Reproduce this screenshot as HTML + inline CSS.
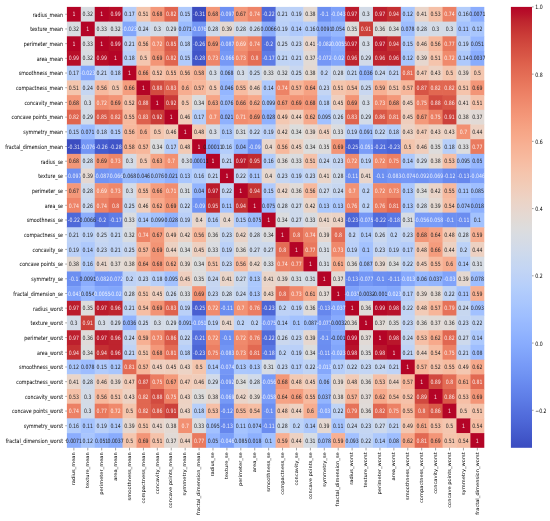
<!DOCTYPE html>
<html lang="en"><head><meta charset="utf-8"><title>Correlation heatmap</title>
<style>
html,body{margin:0;padding:0;background:#fff}
body{width:550px;height:521px;overflow:hidden}
svg{display:block}
text{font-family:"DejaVu Sans","Liberation Sans",sans-serif;font-size:4.675px;text-rendering:geometricPrecision}
.a{text-anchor:middle}
.w{fill-opacity:.85}
.w{fill:#fff}
.k{fill:#262626}
.y{text-anchor:end;fill:#000}
.x{text-anchor:end;fill:#000}
.c{fill:#000}
.t{stroke:#000;stroke-width:0.374}
</style></head>
<body>
<svg width="550" height="521" viewBox="0 0 550 521">
<defs><linearGradient id="cb" x1="0" y1="1" x2="0" y2="0"><stop offset="0%" stop-color="#3b4cc0"/><stop offset="1.56%" stop-color="#3f53c6"/><stop offset="3.12%" stop-color="#445acc"/><stop offset="4.69%" stop-color="#4961d2"/><stop offset="6.25%" stop-color="#4e68d8"/><stop offset="7.81%" stop-color="#536edd"/><stop offset="9.38%" stop-color="#5875e1"/><stop offset="10.94%" stop-color="#5d7ce6"/><stop offset="12.5%" stop-color="#6282ea"/><stop offset="14.06%" stop-color="#6788ee"/><stop offset="15.62%" stop-color="#6c8ff1"/><stop offset="17.19%" stop-color="#7295f4"/><stop offset="18.75%" stop-color="#779af7"/><stop offset="20.31%" stop-color="#7da0f9"/><stop offset="21.88%" stop-color="#82a6fb"/><stop offset="23.44%" stop-color="#88abfd"/><stop offset="25%" stop-color="#8db0fe"/><stop offset="26.56%" stop-color="#93b5fe"/><stop offset="28.12%" stop-color="#98b9ff"/><stop offset="29.69%" stop-color="#9ebeff"/><stop offset="31.25%" stop-color="#a3c2fe"/><stop offset="32.81%" stop-color="#a9c6fd"/><stop offset="34.38%" stop-color="#aec9fc"/><stop offset="35.94%" stop-color="#b3cdfb"/><stop offset="37.5%" stop-color="#b9d0f9"/><stop offset="39.06%" stop-color="#bed2f6"/><stop offset="40.62%" stop-color="#c3d5f4"/><stop offset="42.19%" stop-color="#c7d7f0"/><stop offset="43.75%" stop-color="#ccd9ed"/><stop offset="45.31%" stop-color="#d1dae9"/><stop offset="46.88%" stop-color="#d5dbe5"/><stop offset="48.44%" stop-color="#d9dce1"/><stop offset="50%" stop-color="#dddcdc"/><stop offset="51.56%" stop-color="#e1dad6"/><stop offset="53.12%" stop-color="#e5d8d1"/><stop offset="54.69%" stop-color="#e9d5cb"/><stop offset="56.25%" stop-color="#ecd3c5"/><stop offset="57.81%" stop-color="#efcfbf"/><stop offset="59.38%" stop-color="#f1ccb8"/><stop offset="60.94%" stop-color="#f3c8b2"/><stop offset="62.5%" stop-color="#f5c4ac"/><stop offset="64.06%" stop-color="#f6bfa6"/><stop offset="65.62%" stop-color="#f7ba9f"/><stop offset="67.19%" stop-color="#f7b599"/><stop offset="68.75%" stop-color="#f7b093"/><stop offset="70.31%" stop-color="#f7aa8c"/><stop offset="71.88%" stop-color="#f6a586"/><stop offset="73.44%" stop-color="#f59f80"/><stop offset="75%" stop-color="#f4987a"/><stop offset="76.56%" stop-color="#f29274"/><stop offset="78.12%" stop-color="#f08b6e"/><stop offset="79.69%" stop-color="#ee8468"/><stop offset="81.25%" stop-color="#eb7d62"/><stop offset="82.81%" stop-color="#e8765c"/><stop offset="84.38%" stop-color="#e46e56"/><stop offset="85.94%" stop-color="#e16751"/><stop offset="87.5%" stop-color="#dd5f4b"/><stop offset="89.06%" stop-color="#d85646"/><stop offset="90.62%" stop-color="#d44e41"/><stop offset="92.19%" stop-color="#cf453c"/><stop offset="93.75%" stop-color="#ca3b37"/><stop offset="95.31%" stop-color="#c43032"/><stop offset="96.88%" stop-color="#be242e"/><stop offset="98.44%" stop-color="#b8122a"/><stop offset="100%" stop-color="#b40426"/></linearGradient><filter id="b" x="-5%" y="-5%" width="110%" height="110%"><feGaussianBlur stdDeviation="0.42"/></filter></defs>
<rect width="550" height="521" fill="#fff"/>
<g>
<rect x="66.9" y="6.9" width="14.31" height="15.1" fill="#b40426"/><rect x="80.81" y="6.9" width="14.31" height="15.1" fill="#d9dce1"/><rect x="94.73" y="6.9" width="14.31" height="15.1" fill="#b40426"/><rect x="108.64" y="6.9" width="14.31" height="15.1" fill="#b70d28"/><rect x="122.55" y="6.9" width="14.31" height="15.1" fill="#b6cefa"/><rect x="136.47" y="6.9" width="14.31" height="15.1" fill="#f4c5ad"/><rect x="150.38" y="6.9" width="14.31" height="15.1" fill="#f4987a"/><rect x="164.29" y="6.9" width="14.31" height="15.1" fill="#e0654f"/><rect x="178.21" y="6.9" width="14.31" height="15.1" fill="#afcafc"/><rect x="192.12" y="6.9" width="14.31" height="15.1" fill="#3b4cc0"/><rect x="206.03" y="6.9" width="14.31" height="15.1" fill="#f39778"/><rect x="219.95" y="6.9" width="14.31" height="15.1" fill="#6e90f2"/><rect x="233.86" y="6.9" width="14.31" height="15.1" fill="#f4987a"/><rect x="247.77" y="6.9" width="14.31" height="15.1" fill="#ee8468"/><rect x="261.69" y="6.9" width="14.31" height="15.1" fill="#4f69d9"/><rect x="275.6" y="6.9" width="14.31" height="15.1" fill="#bfd3f6"/><rect x="289.51" y="6.9" width="14.31" height="15.1" fill="#bbd1f8"/><rect x="303.43" y="6.9" width="14.31" height="15.1" fill="#e3d9d3"/><rect x="317.34" y="6.9" width="14.31" height="15.1" fill="#6c8ff1"/><rect x="331.25" y="6.9" width="14.31" height="15.1" fill="#7da0f9"/><rect x="345.17" y="6.9" width="14.31" height="15.1" fill="#bb1b2c"/><rect x="359.08" y="6.9" width="14.31" height="15.1" fill="#d3dbe7"/><rect x="372.99" y="6.9" width="14.31" height="15.1" fill="#bd1f2d"/><rect x="386.91" y="6.9" width="14.31" height="15.1" fill="#c43032"/><rect x="400.82" y="6.9" width="14.31" height="15.1" fill="#a9c6fd"/><rect x="414.73" y="6.9" width="14.31" height="15.1" fill="#ead5c9"/><rect x="428.65" y="6.9" width="14.31" height="15.1" fill="#f5c0a7"/><rect x="442.56" y="6.9" width="14.31" height="15.1" fill="#ec8165"/><rect x="456.47" y="6.9" width="14.31" height="15.1" fill="#b3cdfb"/><rect x="470.39" y="6.9" width="13.91" height="15.1" fill="#8badfd"/>
<rect x="66.9" y="21.6" width="14.31" height="15.1" fill="#d9dce1"/><rect x="80.81" y="21.6" width="14.31" height="15.1" fill="#b40426"/><rect x="94.73" y="21.6" width="14.31" height="15.1" fill="#dadce0"/><rect x="108.64" y="21.6" width="14.31" height="15.1" fill="#d8dce2"/><rect x="122.55" y="21.6" width="14.31" height="15.1" fill="#82a6fb"/><rect x="136.47" y="21.6" width="14.31" height="15.1" fill="#c6d6f1"/><rect x="150.38" y="21.6" width="14.31" height="15.1" fill="#d4dbe6"/><rect x="164.29" y="21.6" width="14.31" height="15.1" fill="#d3dbe7"/><rect x="178.21" y="21.6" width="14.31" height="15.1" fill="#9bbcff"/><rect x="192.12" y="21.6" width="14.31" height="15.1" fill="#7396f5"/><rect x="206.03" y="21.6" width="14.31" height="15.1" fill="#cedaeb"/><rect x="219.95" y="21.6" width="14.31" height="15.1" fill="#e5d8d1"/><rect x="233.86" y="21.6" width="14.31" height="15.1" fill="#cfdaea"/><rect x="247.77" y="21.6" width="14.31" height="15.1" fill="#cbd8ee"/><rect x="261.69" y="21.6" width="14.31" height="15.1" fill="#8badfd"/><rect x="275.6" y="21.6" width="14.31" height="15.1" fill="#bbd1f8"/><rect x="289.51" y="21.6" width="14.31" height="15.1" fill="#aec9fc"/><rect x="303.43" y="21.6" width="14.31" height="15.1" fill="#b3cdfb"/><rect x="317.34" y="21.6" width="14.31" height="15.1" fill="#8badfd"/><rect x="331.25" y="21.6" width="14.31" height="15.1" fill="#97b8ff"/><rect x="345.17" y="21.6" width="14.31" height="15.1" fill="#dedcdb"/><rect x="359.08" y="21.6" width="14.31" height="15.1" fill="#cc403a"/><rect x="372.99" y="21.6" width="14.31" height="15.1" fill="#dfdbd9"/><rect x="386.91" y="21.6" width="14.31" height="15.1" fill="#dcdddd"/><rect x="400.82" y="21.6" width="14.31" height="15.1" fill="#9dbdff"/><rect x="414.73" y="21.6" width="14.31" height="15.1" fill="#cfdaea"/><rect x="428.65" y="21.6" width="14.31" height="15.1" fill="#d4dbe6"/><rect x="442.56" y="21.6" width="14.31" height="15.1" fill="#d3dbe7"/><rect x="456.47" y="21.6" width="14.31" height="15.1" fill="#a5c3fe"/><rect x="470.39" y="21.6" width="13.91" height="15.1" fill="#a9c6fd"/>
<rect x="66.9" y="36.29" width="14.31" height="15.1" fill="#b40426"/><rect x="80.81" y="36.29" width="14.31" height="15.1" fill="#dadce0"/><rect x="94.73" y="36.29" width="14.31" height="15.1" fill="#b40426"/><rect x="108.64" y="36.29" width="14.31" height="15.1" fill="#b70d28"/><rect x="122.55" y="36.29" width="14.31" height="15.1" fill="#bfd3f6"/><rect x="136.47" y="36.29" width="14.31" height="15.1" fill="#f7b99e"/><rect x="150.38" y="36.29" width="14.31" height="15.1" fill="#f08b6e"/><rect x="164.29" y="36.29" width="14.31" height="15.1" fill="#da5a49"/><rect x="178.21" y="36.29" width="14.31" height="15.1" fill="#b9d0f9"/><rect x="192.12" y="36.29" width="14.31" height="15.1" fill="#455cce"/><rect x="206.03" y="36.29" width="14.31" height="15.1" fill="#f39475"/><rect x="219.95" y="36.29" width="14.31" height="15.1" fill="#7093f3"/><rect x="233.86" y="36.29" width="14.31" height="15.1" fill="#f29274"/><rect x="247.77" y="36.29" width="14.31" height="15.1" fill="#ec8165"/><rect x="261.69" y="36.29" width="14.31" height="15.1" fill="#5470de"/><rect x="275.6" y="36.29" width="14.31" height="15.1" fill="#c9d7f0"/><rect x="289.51" y="36.29" width="14.31" height="15.1" fill="#c4d5f3"/><rect x="303.43" y="36.29" width="14.31" height="15.1" fill="#e9d5cb"/><rect x="317.34" y="36.29" width="14.31" height="15.1" fill="#7295f4"/><rect x="331.25" y="36.29" width="14.31" height="15.1" fill="#86a9fc"/><rect x="345.17" y="36.29" width="14.31" height="15.1" fill="#bb1b2c"/><rect x="359.08" y="36.29" width="14.31" height="15.1" fill="#d4dbe6"/><rect x="372.99" y="36.29" width="14.31" height="15.1" fill="#bb1b2c"/><rect x="386.91" y="36.29" width="14.31" height="15.1" fill="#c43032"/><rect x="400.82" y="36.29" width="14.31" height="15.1" fill="#b1cbfc"/><rect x="414.73" y="36.29" width="14.31" height="15.1" fill="#efcebd"/><rect x="428.65" y="36.29" width="14.31" height="15.1" fill="#f7b89c"/><rect x="442.56" y="36.29" width="14.31" height="15.1" fill="#e9785d"/><rect x="456.47" y="36.29" width="14.31" height="15.1" fill="#bad0f8"/><rect x="470.39" y="36.29" width="13.91" height="15.1" fill="#96b7ff"/>
<rect x="66.9" y="50.99" width="14.31" height="15.1" fill="#b70d28"/><rect x="80.81" y="50.99" width="14.31" height="15.1" fill="#d8dce2"/><rect x="94.73" y="50.99" width="14.31" height="15.1" fill="#b70d28"/><rect x="108.64" y="50.99" width="14.31" height="15.1" fill="#b40426"/><rect x="122.55" y="50.99" width="14.31" height="15.1" fill="#b7cff9"/><rect x="136.47" y="50.99" width="14.31" height="15.1" fill="#f4c6af"/><rect x="150.38" y="50.99" width="14.31" height="15.1" fill="#f39577"/><rect x="164.29" y="50.99" width="14.31" height="15.1" fill="#e0654f"/><rect x="178.21" y="50.99" width="14.31" height="15.1" fill="#b1cbfc"/><rect x="192.12" y="50.99" width="14.31" height="15.1" fill="#4055c8"/><rect x="206.03" y="50.99" width="14.31" height="15.1" fill="#ee8669"/><rect x="219.95" y="50.99" width="14.31" height="15.1" fill="#7699f6"/><rect x="233.86" y="50.99" width="14.31" height="15.1" fill="#ef886b"/><rect x="247.77" y="50.99" width="14.31" height="15.1" fill="#e46e56"/><rect x="261.69" y="50.99" width="14.31" height="15.1" fill="#5d7ce6"/><rect x="275.6" y="50.99" width="14.31" height="15.1" fill="#c0d4f5"/><rect x="289.51" y="50.99" width="14.31" height="15.1" fill="#bfd3f6"/><rect x="303.43" y="50.99" width="14.31" height="15.1" fill="#e2dad5"/><rect x="317.34" y="50.99" width="14.31" height="15.1" fill="#7597f6"/><rect x="331.25" y="50.99" width="14.31" height="15.1" fill="#82a6fb"/><rect x="345.17" y="50.99" width="14.31" height="15.1" fill="#be242e"/><rect x="359.08" y="50.99" width="14.31" height="15.1" fill="#d1dae9"/><rect x="372.99" y="50.99" width="14.31" height="15.1" fill="#be242e"/><rect x="386.91" y="50.99" width="14.31" height="15.1" fill="#be242e"/><rect x="400.82" y="50.99" width="14.31" height="15.1" fill="#a9c6fd"/><rect x="414.73" y="50.99" width="14.31" height="15.1" fill="#e6d7cf"/><rect x="428.65" y="50.99" width="14.31" height="15.1" fill="#f5c4ac"/><rect x="442.56" y="50.99" width="14.31" height="15.1" fill="#f08a6c"/><rect x="456.47" y="50.99" width="14.31" height="15.1" fill="#aec9fc"/><rect x="470.39" y="50.99" width="13.91" height="15.1" fill="#89acfd"/>
<rect x="66.9" y="65.69" width="14.31" height="15.1" fill="#b6cefa"/><rect x="80.81" y="65.69" width="14.31" height="15.1" fill="#82a6fb"/><rect x="94.73" y="65.69" width="14.31" height="15.1" fill="#bfd3f6"/><rect x="108.64" y="65.69" width="14.31" height="15.1" fill="#b7cff9"/><rect x="122.55" y="65.69" width="14.31" height="15.1" fill="#b40426"/><rect x="136.47" y="65.69" width="14.31" height="15.1" fill="#f59d7e"/><rect x="150.38" y="65.69" width="14.31" height="15.1" fill="#f5c1a9"/><rect x="164.29" y="65.69" width="14.31" height="15.1" fill="#f7ba9f"/><rect x="178.21" y="65.69" width="14.31" height="15.1" fill="#f7b99e"/><rect x="192.12" y="65.69" width="14.31" height="15.1" fill="#f7b396"/><rect x="206.03" y="65.69" width="14.31" height="15.1" fill="#d4dbe6"/><rect x="219.95" y="65.69" width="14.31" height="15.1" fill="#9bbcff"/><rect x="233.86" y="65.69" width="14.31" height="15.1" fill="#d3dbe7"/><rect x="247.77" y="65.69" width="14.31" height="15.1" fill="#c7d7f0"/><rect x="261.69" y="65.69" width="14.31" height="15.1" fill="#dadce0"/><rect x="275.6" y="65.69" width="14.31" height="15.1" fill="#d8dce2"/><rect x="289.51" y="65.69" width="14.31" height="15.1" fill="#c9d7f0"/><rect x="303.43" y="65.69" width="14.31" height="15.1" fill="#e4d9d2"/><rect x="317.34" y="65.69" width="14.31" height="15.1" fill="#bed2f6"/><rect x="331.25" y="65.69" width="14.31" height="15.1" fill="#d1dae9"/><rect x="345.17" y="65.69" width="14.31" height="15.1" fill="#c0d4f5"/><rect x="359.08" y="65.69" width="14.31" height="15.1" fill="#92b4fe"/><rect x="372.99" y="65.69" width="14.31" height="15.1" fill="#c6d6f1"/><rect x="386.91" y="65.69" width="14.31" height="15.1" fill="#bfd3f6"/><rect x="400.82" y="65.69" width="14.31" height="15.1" fill="#e36b54"/><rect x="414.73" y="65.69" width="14.31" height="15.1" fill="#f2cbb7"/><rect x="428.65" y="65.69" width="14.31" height="15.1" fill="#edd2c3"/><rect x="442.56" y="65.69" width="14.31" height="15.1" fill="#f4c5ad"/><rect x="456.47" y="65.69" width="14.31" height="15.1" fill="#e6d7cf"/><rect x="470.39" y="65.69" width="13.91" height="15.1" fill="#f4c6af"/>
<rect x="66.9" y="80.38" width="14.31" height="15.1" fill="#f4c5ad"/><rect x="80.81" y="80.38" width="14.31" height="15.1" fill="#c6d6f1"/><rect x="94.73" y="80.38" width="14.31" height="15.1" fill="#f7b99e"/><rect x="108.64" y="80.38" width="14.31" height="15.1" fill="#f4c6af"/><rect x="122.55" y="80.38" width="14.31" height="15.1" fill="#f59d7e"/><rect x="136.47" y="80.38" width="14.31" height="15.1" fill="#b40426"/><rect x="150.38" y="80.38" width="14.31" height="15.1" fill="#d24b40"/><rect x="164.29" y="80.38" width="14.31" height="15.1" fill="#de614d"/><rect x="178.21" y="80.38" width="14.31" height="15.1" fill="#f7ad90"/><rect x="192.12" y="80.38" width="14.31" height="15.1" fill="#f7b79b"/><rect x="206.03" y="80.38" width="14.31" height="15.1" fill="#f3c7b1"/><rect x="219.95" y="80.38" width="14.31" height="15.1" fill="#94b6ff"/><rect x="233.86" y="80.38" width="14.31" height="15.1" fill="#f7bca1"/><rect x="247.77" y="80.38" width="14.31" height="15.1" fill="#efcebd"/><rect x="261.69" y="80.38" width="14.31" height="15.1" fill="#adc9fd"/><rect x="275.6" y="80.38" width="14.31" height="15.1" fill="#ed8366"/><rect x="289.51" y="80.38" width="14.31" height="15.1" fill="#f7b599"/><rect x="303.43" y="80.38" width="14.31" height="15.1" fill="#f6a283"/><rect x="317.34" y="80.38" width="14.31" height="15.1" fill="#c4d5f3"/><rect x="331.25" y="80.38" width="14.31" height="15.1" fill="#f4c5ad"/><rect x="345.17" y="80.38" width="14.31" height="15.1" fill="#f6bea4"/><rect x="359.08" y="80.38" width="14.31" height="15.1" fill="#c9d7f0"/><rect x="372.99" y="80.38" width="14.31" height="15.1" fill="#f7b093"/><rect x="386.91" y="80.38" width="14.31" height="15.1" fill="#f5c4ac"/><rect x="400.82" y="80.38" width="14.31" height="15.1" fill="#f7b79b"/><rect x="414.73" y="80.38" width="14.31" height="15.1" fill="#d75445"/><rect x="428.65" y="80.38" width="14.31" height="15.1" fill="#e16751"/><rect x="442.56" y="80.38" width="14.31" height="15.1" fill="#e16751"/><rect x="456.47" y="80.38" width="14.31" height="15.1" fill="#f5c4ac"/><rect x="470.39" y="80.38" width="13.91" height="15.1" fill="#f39577"/>
<rect x="66.9" y="95.08" width="14.31" height="15.1" fill="#f4987a"/><rect x="80.81" y="95.08" width="14.31" height="15.1" fill="#d4dbe6"/><rect x="94.73" y="95.08" width="14.31" height="15.1" fill="#f08b6e"/><rect x="108.64" y="95.08" width="14.31" height="15.1" fill="#f39577"/><rect x="122.55" y="95.08" width="14.31" height="15.1" fill="#f5c1a9"/><rect x="136.47" y="95.08" width="14.31" height="15.1" fill="#d24b40"/><rect x="150.38" y="95.08" width="14.31" height="15.1" fill="#b40426"/><rect x="164.29" y="95.08" width="14.31" height="15.1" fill="#ca3b37"/><rect x="178.21" y="95.08" width="14.31" height="15.1" fill="#f4c6af"/><rect x="192.12" y="95.08" width="14.31" height="15.1" fill="#dbdcde"/><rect x="206.03" y="95.08" width="14.31" height="15.1" fill="#f6a586"/><rect x="219.95" y="95.08" width="14.31" height="15.1" fill="#9dbdff"/><rect x="233.86" y="95.08" width="14.31" height="15.1" fill="#f59d7e"/><rect x="247.77" y="95.08" width="14.31" height="15.1" fill="#f7a98b"/><rect x="261.69" y="95.08" width="14.31" height="15.1" fill="#a3c2fe"/><rect x="275.6" y="95.08" width="14.31" height="15.1" fill="#f49a7b"/><rect x="289.51" y="95.08" width="14.31" height="15.1" fill="#f39475"/><rect x="303.43" y="95.08" width="14.31" height="15.1" fill="#f39577"/><rect x="317.34" y="95.08" width="14.31" height="15.1" fill="#b7cff9"/><rect x="331.25" y="95.08" width="14.31" height="15.1" fill="#efcfbf"/><rect x="345.17" y="95.08" width="14.31" height="15.1" fill="#f39475"/><rect x="359.08" y="95.08" width="14.31" height="15.1" fill="#d4dbe6"/><rect x="372.99" y="95.08" width="14.31" height="15.1" fill="#ee8669"/><rect x="386.91" y="95.08" width="14.31" height="15.1" fill="#f4987a"/><rect x="400.82" y="95.08" width="14.31" height="15.1" fill="#efcfbf"/><rect x="414.73" y="95.08" width="14.31" height="15.1" fill="#eb7d62"/><rect x="428.65" y="95.08" width="14.31" height="15.1" fill="#d24b40"/><rect x="442.56" y="95.08" width="14.31" height="15.1" fill="#d85646"/><rect x="456.47" y="95.08" width="14.31" height="15.1" fill="#e9d5cb"/><rect x="470.39" y="95.08" width="13.91" height="15.1" fill="#f5c2aa"/>
<rect x="66.9" y="109.78" width="14.31" height="15.1" fill="#e0654f"/><rect x="80.81" y="109.78" width="14.31" height="15.1" fill="#d3dbe7"/><rect x="94.73" y="109.78" width="14.31" height="15.1" fill="#da5a49"/><rect x="108.64" y="109.78" width="14.31" height="15.1" fill="#e0654f"/><rect x="122.55" y="109.78" width="14.31" height="15.1" fill="#f7ba9f"/><rect x="136.47" y="109.78" width="14.31" height="15.1" fill="#de614d"/><rect x="150.38" y="109.78" width="14.31" height="15.1" fill="#ca3b37"/><rect x="164.29" y="109.78" width="14.31" height="15.1" fill="#b40426"/><rect x="178.21" y="109.78" width="14.31" height="15.1" fill="#f1cdba"/><rect x="192.12" y="109.78" width="14.31" height="15.1" fill="#b5cdfa"/><rect x="206.03" y="109.78" width="14.31" height="15.1" fill="#f29072"/><rect x="219.95" y="109.78" width="14.31" height="15.1" fill="#8fb1fe"/><rect x="233.86" y="109.78" width="14.31" height="15.1" fill="#f18d6f"/><rect x="247.77" y="109.78" width="14.31" height="15.1" fill="#f39475"/><rect x="261.69" y="109.78" width="14.31" height="15.1" fill="#90b2fe"/><rect x="275.6" y="109.78" width="14.31" height="15.1" fill="#f3c8b2"/><rect x="289.51" y="109.78" width="14.31" height="15.1" fill="#edd1c2"/><rect x="303.43" y="109.78" width="14.31" height="15.1" fill="#f7aa8c"/><rect x="317.34" y="109.78" width="14.31" height="15.1" fill="#a2c1ff"/><rect x="331.25" y="109.78" width="14.31" height="15.1" fill="#cbd8ee"/><rect x="345.17" y="109.78" width="14.31" height="15.1" fill="#df634e"/><rect x="359.08" y="109.78" width="14.31" height="15.1" fill="#d2dbe8"/><rect x="372.99" y="109.78" width="14.31" height="15.1" fill="#d95847"/><rect x="386.91" y="109.78" width="14.31" height="15.1" fill="#e36b54"/><rect x="400.82" y="109.78" width="14.31" height="15.1" fill="#efcebd"/><rect x="414.73" y="109.78" width="14.31" height="15.1" fill="#f49a7b"/><rect x="428.65" y="109.78" width="14.31" height="15.1" fill="#ec7f63"/><rect x="442.56" y="109.78" width="14.31" height="15.1" fill="#cc403a"/><rect x="456.47" y="109.78" width="14.31" height="15.1" fill="#e3d9d3"/><rect x="470.39" y="109.78" width="13.91" height="15.1" fill="#e1dad6"/>
<rect x="66.9" y="124.47" width="14.31" height="15.1" fill="#afcafc"/><rect x="80.81" y="124.47" width="14.31" height="15.1" fill="#9bbcff"/><rect x="94.73" y="124.47" width="14.31" height="15.1" fill="#b9d0f9"/><rect x="108.64" y="124.47" width="14.31" height="15.1" fill="#b1cbfc"/><rect x="122.55" y="124.47" width="14.31" height="15.1" fill="#f7b99e"/><rect x="136.47" y="124.47" width="14.31" height="15.1" fill="#f7ad90"/><rect x="150.38" y="124.47" width="14.31" height="15.1" fill="#f4c6af"/><rect x="164.29" y="124.47" width="14.31" height="15.1" fill="#f1cdba"/><rect x="178.21" y="124.47" width="14.31" height="15.1" fill="#b40426"/><rect x="192.12" y="124.47" width="14.31" height="15.1" fill="#f2cab5"/><rect x="206.03" y="124.47" width="14.31" height="15.1" fill="#d5dbe5"/><rect x="219.95" y="124.47" width="14.31" height="15.1" fill="#aac7fd"/><rect x="233.86" y="124.47" width="14.31" height="15.1" fill="#d7dce3"/><rect x="247.77" y="124.47" width="14.31" height="15.1" fill="#c3d5f4"/><rect x="261.69" y="124.47" width="14.31" height="15.1" fill="#bad0f8"/><rect x="275.6" y="124.47" width="14.31" height="15.1" fill="#ebd3c6"/><rect x="289.51" y="124.47" width="14.31" height="15.1" fill="#dcdddd"/><rect x="303.43" y="124.47" width="14.31" height="15.1" fill="#e6d7cf"/><rect x="317.34" y="124.47" width="14.31" height="15.1" fill="#efcfbf"/><rect x="331.25" y="124.47" width="14.31" height="15.1" fill="#dadce0"/><rect x="345.17" y="124.47" width="14.31" height="15.1" fill="#bad0f8"/><rect x="359.08" y="124.47" width="14.31" height="15.1" fill="#a1c0ff"/><rect x="372.99" y="124.47" width="14.31" height="15.1" fill="#c1d4f4"/><rect x="386.91" y="124.47" width="14.31" height="15.1" fill="#b7cff9"/><rect x="400.82" y="124.47" width="14.31" height="15.1" fill="#ecd3c5"/><rect x="414.73" y="124.47" width="14.31" height="15.1" fill="#f2cbb7"/><rect x="428.65" y="124.47" width="14.31" height="15.1" fill="#edd2c3"/><rect x="442.56" y="124.47" width="14.31" height="15.1" fill="#ecd3c5"/><rect x="456.47" y="124.47" width="14.31" height="15.1" fill="#f29072"/><rect x="470.39" y="124.47" width="13.91" height="15.1" fill="#edd1c2"/>
<rect x="66.9" y="139.17" width="14.31" height="15.1" fill="#3b4cc0"/><rect x="80.81" y="139.17" width="14.31" height="15.1" fill="#7396f5"/><rect x="94.73" y="139.17" width="14.31" height="15.1" fill="#455cce"/><rect x="108.64" y="139.17" width="14.31" height="15.1" fill="#4055c8"/><rect x="122.55" y="139.17" width="14.31" height="15.1" fill="#f7b396"/><rect x="136.47" y="139.17" width="14.31" height="15.1" fill="#f7b79b"/><rect x="150.38" y="139.17" width="14.31" height="15.1" fill="#dbdcde"/><rect x="164.29" y="139.17" width="14.31" height="15.1" fill="#b5cdfa"/><rect x="178.21" y="139.17" width="14.31" height="15.1" fill="#f2cab5"/><rect x="192.12" y="139.17" width="14.31" height="15.1" fill="#b40426"/><rect x="206.03" y="139.17" width="14.31" height="15.1" fill="#88abfd"/><rect x="219.95" y="139.17" width="14.31" height="15.1" fill="#b3cdfb"/><rect x="233.86" y="139.17" width="14.31" height="15.1" fill="#93b5fe"/><rect x="247.77" y="139.17" width="14.31" height="15.1" fill="#7093f3"/><rect x="261.69" y="139.17" width="14.31" height="15.1" fill="#e8d6cc"/><rect x="275.6" y="139.17" width="14.31" height="15.1" fill="#f7b89c"/><rect x="289.51" y="139.17" width="14.31" height="15.1" fill="#eed0c0"/><rect x="303.43" y="139.17" width="14.31" height="15.1" fill="#dcdddd"/><rect x="317.34" y="139.17" width="14.31" height="15.1" fill="#dddcdc"/><rect x="331.25" y="139.17" width="14.31" height="15.1" fill="#f39475"/><rect x="345.17" y="139.17" width="14.31" height="15.1" fill="#485fd1"/><rect x="359.08" y="139.17" width="14.31" height="15.1" fill="#7a9df8"/><rect x="372.99" y="139.17" width="14.31" height="15.1" fill="#536edd"/><rect x="386.91" y="139.17" width="14.31" height="15.1" fill="#4c66d6"/><rect x="400.82" y="139.17" width="14.31" height="15.1" fill="#f4c5ad"/><rect x="414.73" y="139.17" width="14.31" height="15.1" fill="#f0cdbb"/><rect x="428.65" y="139.17" width="14.31" height="15.1" fill="#dddcdc"/><rect x="442.56" y="139.17" width="14.31" height="15.1" fill="#b7cff9"/><rect x="456.47" y="139.17" width="14.31" height="15.1" fill="#dbdcde"/><rect x="470.39" y="139.17" width="13.91" height="15.1" fill="#e97a5f"/>
<rect x="66.9" y="153.87" width="14.31" height="15.1" fill="#f39778"/><rect x="80.81" y="153.87" width="14.31" height="15.1" fill="#cedaeb"/><rect x="94.73" y="153.87" width="14.31" height="15.1" fill="#f39475"/><rect x="108.64" y="153.87" width="14.31" height="15.1" fill="#ee8669"/><rect x="122.55" y="153.87" width="14.31" height="15.1" fill="#d4dbe6"/><rect x="136.47" y="153.87" width="14.31" height="15.1" fill="#f3c7b1"/><rect x="150.38" y="153.87" width="14.31" height="15.1" fill="#f6a586"/><rect x="164.29" y="153.87" width="14.31" height="15.1" fill="#f29072"/><rect x="178.21" y="153.87" width="14.31" height="15.1" fill="#d5dbe5"/><rect x="192.12" y="153.87" width="14.31" height="15.1" fill="#88abfd"/><rect x="206.03" y="153.87" width="14.31" height="15.1" fill="#b40426"/><rect x="219.95" y="153.87" width="14.31" height="15.1" fill="#c0d4f5"/><rect x="233.86" y="153.87" width="14.31" height="15.1" fill="#bb1b2c"/><rect x="247.77" y="153.87" width="14.31" height="15.1" fill="#c12b30"/><rect x="261.69" y="153.87" width="14.31" height="15.1" fill="#b3cdfb"/><rect x="275.6" y="153.87" width="14.31" height="15.1" fill="#dfdbd9"/><rect x="289.51" y="153.87" width="14.31" height="15.1" fill="#dadce0"/><rect x="303.43" y="153.87" width="14.31" height="15.1" fill="#f5c2aa"/><rect x="317.34" y="153.87" width="14.31" height="15.1" fill="#c6d6f1"/><rect x="331.25" y="153.87" width="14.31" height="15.1" fill="#c4d5f3"/><rect x="345.17" y="153.87" width="14.31" height="15.1" fill="#f08b6e"/><rect x="359.08" y="153.87" width="14.31" height="15.1" fill="#bbd1f8"/><rect x="372.99" y="153.87" width="14.31" height="15.1" fill="#f08a6c"/><rect x="386.91" y="153.87" width="14.31" height="15.1" fill="#ec7f63"/><rect x="400.82" y="153.87" width="14.31" height="15.1" fill="#aec9fc"/><rect x="414.73" y="153.87" width="14.31" height="15.1" fill="#d1dae9"/><rect x="428.65" y="153.87" width="14.31" height="15.1" fill="#e4d9d2"/><rect x="442.56" y="153.87" width="14.31" height="15.1" fill="#f6bfa6"/><rect x="456.47" y="153.87" width="14.31" height="15.1" fill="#a2c1ff"/><rect x="470.39" y="153.87" width="13.91" height="15.1" fill="#96b7ff"/>
<rect x="66.9" y="168.56" width="14.31" height="15.1" fill="#6e90f2"/><rect x="80.81" y="168.56" width="14.31" height="15.1" fill="#e5d8d1"/><rect x="94.73" y="168.56" width="14.31" height="15.1" fill="#7093f3"/><rect x="108.64" y="168.56" width="14.31" height="15.1" fill="#7699f6"/><rect x="122.55" y="168.56" width="14.31" height="15.1" fill="#9bbcff"/><rect x="136.47" y="168.56" width="14.31" height="15.1" fill="#94b6ff"/><rect x="150.38" y="168.56" width="14.31" height="15.1" fill="#9dbdff"/><rect x="164.29" y="168.56" width="14.31" height="15.1" fill="#8fb1fe"/><rect x="178.21" y="168.56" width="14.31" height="15.1" fill="#aac7fd"/><rect x="192.12" y="168.56" width="14.31" height="15.1" fill="#b3cdfb"/><rect x="206.03" y="168.56" width="14.31" height="15.1" fill="#c0d4f5"/><rect x="219.95" y="168.56" width="14.31" height="15.1" fill="#b40426"/><rect x="233.86" y="168.56" width="14.31" height="15.1" fill="#c3d5f4"/><rect x="247.77" y="168.56" width="14.31" height="15.1" fill="#a6c4fe"/><rect x="261.69" y="168.56" width="14.31" height="15.1" fill="#e7d7ce"/><rect x="275.6" y="168.56" width="14.31" height="15.1" fill="#c5d6f2"/><rect x="289.51" y="168.56" width="14.31" height="15.1" fill="#bbd1f8"/><rect x="303.43" y="168.56" width="14.31" height="15.1" fill="#c4d5f3"/><rect x="317.34" y="168.56" width="14.31" height="15.1" fill="#ead5c9"/><rect x="331.25" y="168.56" width="14.31" height="15.1" fill="#cfdaea"/><rect x="345.17" y="168.56" width="14.31" height="15.1" fill="#6b8df0"/><rect x="359.08" y="168.56" width="14.31" height="15.1" fill="#e9d5cb"/><rect x="372.99" y="168.56" width="14.31" height="15.1" fill="#6c8ff1"/><rect x="386.91" y="168.56" width="14.31" height="15.1" fill="#7295f4"/><rect x="400.82" y="168.56" width="14.31" height="15.1" fill="#7597f6"/><rect x="414.73" y="168.56" width="14.31" height="15.1" fill="#6f92f3"/><rect x="428.65" y="168.56" width="14.31" height="15.1" fill="#7699f6"/><rect x="442.56" y="168.56" width="14.31" height="15.1" fill="#688aef"/><rect x="456.47" y="168.56" width="14.31" height="15.1" fill="#6687ed"/><rect x="470.39" y="168.56" width="13.91" height="15.1" fill="#7b9ff9"/>
<rect x="66.9" y="183.26" width="14.31" height="15.1" fill="#f4987a"/><rect x="80.81" y="183.26" width="14.31" height="15.1" fill="#cfdaea"/><rect x="94.73" y="183.26" width="14.31" height="15.1" fill="#f29274"/><rect x="108.64" y="183.26" width="14.31" height="15.1" fill="#ef886b"/><rect x="122.55" y="183.26" width="14.31" height="15.1" fill="#d3dbe7"/><rect x="136.47" y="183.26" width="14.31" height="15.1" fill="#f7bca1"/><rect x="150.38" y="183.26" width="14.31" height="15.1" fill="#f59d7e"/><rect x="164.29" y="183.26" width="14.31" height="15.1" fill="#f18d6f"/><rect x="178.21" y="183.26" width="14.31" height="15.1" fill="#d7dce3"/><rect x="192.12" y="183.26" width="14.31" height="15.1" fill="#93b5fe"/><rect x="206.03" y="183.26" width="14.31" height="15.1" fill="#bb1b2c"/><rect x="219.95" y="183.26" width="14.31" height="15.1" fill="#c3d5f4"/><rect x="233.86" y="183.26" width="14.31" height="15.1" fill="#b40426"/><rect x="247.77" y="183.26" width="14.31" height="15.1" fill="#c53334"/><rect x="261.69" y="183.26" width="14.31" height="15.1" fill="#b1cbfc"/><rect x="275.6" y="183.26" width="14.31" height="15.1" fill="#ead4c8"/><rect x="289.51" y="183.26" width="14.31" height="15.1" fill="#e0dbd8"/><rect x="303.43" y="183.26" width="14.31" height="15.1" fill="#f7b99e"/><rect x="317.34" y="183.26" width="14.31" height="15.1" fill="#ccd9ed"/><rect x="331.25" y="183.26" width="14.31" height="15.1" fill="#c7d7f0"/><rect x="345.17" y="183.26" width="14.31" height="15.1" fill="#f29274"/><rect x="359.08" y="183.26" width="14.31" height="15.1" fill="#bcd2f7"/><rect x="372.99" y="183.26" width="14.31" height="15.1" fill="#f08a6c"/><rect x="386.91" y="183.26" width="14.31" height="15.1" fill="#ee8669"/><rect x="400.82" y="183.26" width="14.31" height="15.1" fill="#abc8fd"/><rect x="414.73" y="183.26" width="14.31" height="15.1" fill="#dcdddd"/><rect x="428.65" y="183.26" width="14.31" height="15.1" fill="#ead4c8"/><rect x="442.56" y="183.26" width="14.31" height="15.1" fill="#f7b99e"/><rect x="456.47" y="183.26" width="14.31" height="15.1" fill="#a6c4fe"/><rect x="470.39" y="183.26" width="13.91" height="15.1" fill="#9fbfff"/>
<rect x="66.9" y="197.96" width="14.31" height="15.1" fill="#ee8468"/><rect x="80.81" y="197.96" width="14.31" height="15.1" fill="#cbd8ee"/><rect x="94.73" y="197.96" width="14.31" height="15.1" fill="#ec8165"/><rect x="108.64" y="197.96" width="14.31" height="15.1" fill="#e46e56"/><rect x="122.55" y="197.96" width="14.31" height="15.1" fill="#c7d7f0"/><rect x="136.47" y="197.96" width="14.31" height="15.1" fill="#efcebd"/><rect x="150.38" y="197.96" width="14.31" height="15.1" fill="#f7a98b"/><rect x="164.29" y="197.96" width="14.31" height="15.1" fill="#f39475"/><rect x="178.21" y="197.96" width="14.31" height="15.1" fill="#c3d5f4"/><rect x="192.12" y="197.96" width="14.31" height="15.1" fill="#7093f3"/><rect x="206.03" y="197.96" width="14.31" height="15.1" fill="#c12b30"/><rect x="219.95" y="197.96" width="14.31" height="15.1" fill="#a6c4fe"/><rect x="233.86" y="197.96" width="14.31" height="15.1" fill="#c53334"/><rect x="247.77" y="197.96" width="14.31" height="15.1" fill="#b40426"/><rect x="261.69" y="197.96" width="14.31" height="15.1" fill="#9dbdff"/><rect x="275.6" y="197.96" width="14.31" height="15.1" fill="#d1dae9"/><rect x="289.51" y="197.96" width="14.31" height="15.1" fill="#cdd9ec"/><rect x="303.43" y="197.96" width="14.31" height="15.1" fill="#ead5c9"/><rect x="317.34" y="197.96" width="14.31" height="15.1" fill="#abc8fd"/><rect x="331.25" y="197.96" width="14.31" height="15.1" fill="#aac7fd"/><rect x="345.17" y="197.96" width="14.31" height="15.1" fill="#eb7d62"/><rect x="359.08" y="197.96" width="14.31" height="15.1" fill="#bcd2f7"/><rect x="372.99" y="197.96" width="14.31" height="15.1" fill="#ea7b60"/><rect x="386.91" y="197.96" width="14.31" height="15.1" fill="#e26952"/><rect x="400.82" y="197.96" width="14.31" height="15.1" fill="#aac7fd"/><rect x="414.73" y="197.96" width="14.31" height="15.1" fill="#d1dae9"/><rect x="428.65" y="197.96" width="14.31" height="15.1" fill="#e4d9d2"/><rect x="442.56" y="197.96" width="14.31" height="15.1" fill="#f6bea4"/><rect x="456.47" y="197.96" width="14.31" height="15.1" fill="#9dbdff"/><rect x="470.39" y="197.96" width="13.91" height="15.1" fill="#8db0fe"/>
<rect x="66.9" y="212.65" width="14.31" height="15.1" fill="#4f69d9"/><rect x="80.81" y="212.65" width="14.31" height="15.1" fill="#8badfd"/><rect x="94.73" y="212.65" width="14.31" height="15.1" fill="#5470de"/><rect x="108.64" y="212.65" width="14.31" height="15.1" fill="#5d7ce6"/><rect x="122.55" y="212.65" width="14.31" height="15.1" fill="#dadce0"/><rect x="136.47" y="212.65" width="14.31" height="15.1" fill="#adc9fd"/><rect x="150.38" y="212.65" width="14.31" height="15.1" fill="#a3c2fe"/><rect x="164.29" y="212.65" width="14.31" height="15.1" fill="#90b2fe"/><rect x="178.21" y="212.65" width="14.31" height="15.1" fill="#bad0f8"/><rect x="192.12" y="212.65" width="14.31" height="15.1" fill="#e8d6cc"/><rect x="206.03" y="212.65" width="14.31" height="15.1" fill="#b3cdfb"/><rect x="219.95" y="212.65" width="14.31" height="15.1" fill="#e7d7ce"/><rect x="233.86" y="212.65" width="14.31" height="15.1" fill="#b1cbfc"/><rect x="247.77" y="212.65" width="14.31" height="15.1" fill="#9dbdff"/><rect x="261.69" y="212.65" width="14.31" height="15.1" fill="#b40426"/><rect x="275.6" y="212.65" width="14.31" height="15.1" fill="#dbdcde"/><rect x="289.51" y="212.65" width="14.31" height="15.1" fill="#cdd9ec"/><rect x="303.43" y="212.65" width="14.31" height="15.1" fill="#d9dce1"/><rect x="317.34" y="212.65" width="14.31" height="15.1" fill="#ead5c9"/><rect x="331.25" y="212.65" width="14.31" height="15.1" fill="#ecd3c5"/><rect x="345.17" y="212.65" width="14.31" height="15.1" fill="#4c66d6"/><rect x="359.08" y="212.65" width="14.31" height="15.1" fill="#7597f6"/><rect x="372.99" y="212.65" width="14.31" height="15.1" fill="#506bda"/><rect x="386.91" y="212.65" width="14.31" height="15.1" fill="#5977e3"/><rect x="400.82" y="212.65" width="14.31" height="15.1" fill="#d7dce3"/><rect x="414.73" y="212.65" width="14.31" height="15.1" fill="#799cf8"/><rect x="428.65" y="212.65" width="14.31" height="15.1" fill="#799cf8"/><rect x="442.56" y="212.65" width="14.31" height="15.1" fill="#6c8ff1"/><rect x="456.47" y="212.65" width="14.31" height="15.1" fill="#6b8df0"/><rect x="470.39" y="212.65" width="13.91" height="15.1" fill="#a3c2fe"/>
<rect x="66.9" y="227.35" width="14.31" height="15.1" fill="#bfd3f6"/><rect x="80.81" y="227.35" width="14.31" height="15.1" fill="#bbd1f8"/><rect x="94.73" y="227.35" width="14.31" height="15.1" fill="#c9d7f0"/><rect x="108.64" y="227.35" width="14.31" height="15.1" fill="#c0d4f5"/><rect x="122.55" y="227.35" width="14.31" height="15.1" fill="#d8dce2"/><rect x="136.47" y="227.35" width="14.31" height="15.1" fill="#ed8366"/><rect x="150.38" y="227.35" width="14.31" height="15.1" fill="#f49a7b"/><rect x="164.29" y="227.35" width="14.31" height="15.1" fill="#f3c8b2"/><rect x="178.21" y="227.35" width="14.31" height="15.1" fill="#ebd3c6"/><rect x="192.12" y="227.35" width="14.31" height="15.1" fill="#f7b89c"/><rect x="206.03" y="227.35" width="14.31" height="15.1" fill="#dfdbd9"/><rect x="219.95" y="227.35" width="14.31" height="15.1" fill="#c5d6f2"/><rect x="233.86" y="227.35" width="14.31" height="15.1" fill="#ead4c8"/><rect x="247.77" y="227.35" width="14.31" height="15.1" fill="#d1dae9"/><rect x="261.69" y="227.35" width="14.31" height="15.1" fill="#dbdcde"/><rect x="275.6" y="227.35" width="14.31" height="15.1" fill="#b40426"/><rect x="289.51" y="227.35" width="14.31" height="15.1" fill="#e36c55"/><rect x="303.43" y="227.35" width="14.31" height="15.1" fill="#ec8165"/><rect x="317.34" y="227.35" width="14.31" height="15.1" fill="#e6d7cf"/><rect x="331.25" y="227.35" width="14.31" height="15.1" fill="#e36c55"/><rect x="345.17" y="227.35" width="14.31" height="15.1" fill="#bed2f6"/><rect x="359.08" y="227.35" width="14.31" height="15.1" fill="#aec9fc"/><rect x="372.99" y="227.35" width="14.31" height="15.1" fill="#cbd8ee"/><rect x="386.91" y="227.35" width="14.31" height="15.1" fill="#bcd2f7"/><rect x="400.82" y="227.35" width="14.31" height="15.1" fill="#c4d5f3"/><rect x="414.73" y="227.35" width="14.31" height="15.1" fill="#f39778"/><rect x="428.65" y="227.35" width="14.31" height="15.1" fill="#f6a385"/><rect x="442.56" y="227.35" width="14.31" height="15.1" fill="#f2c9b4"/><rect x="456.47" y="227.35" width="14.31" height="15.1" fill="#cfdaea"/><rect x="470.39" y="227.35" width="13.91" height="15.1" fill="#f7b093"/>
<rect x="66.9" y="242.05" width="14.31" height="15.1" fill="#bbd1f8"/><rect x="80.81" y="242.05" width="14.31" height="15.1" fill="#aec9fc"/><rect x="94.73" y="242.05" width="14.31" height="15.1" fill="#c4d5f3"/><rect x="108.64" y="242.05" width="14.31" height="15.1" fill="#bfd3f6"/><rect x="122.55" y="242.05" width="14.31" height="15.1" fill="#c9d7f0"/><rect x="136.47" y="242.05" width="14.31" height="15.1" fill="#f7b599"/><rect x="150.38" y="242.05" width="14.31" height="15.1" fill="#f39475"/><rect x="164.29" y="242.05" width="14.31" height="15.1" fill="#edd1c2"/><rect x="178.21" y="242.05" width="14.31" height="15.1" fill="#dcdddd"/><rect x="192.12" y="242.05" width="14.31" height="15.1" fill="#eed0c0"/><rect x="206.03" y="242.05" width="14.31" height="15.1" fill="#dadce0"/><rect x="219.95" y="242.05" width="14.31" height="15.1" fill="#bbd1f8"/><rect x="233.86" y="242.05" width="14.31" height="15.1" fill="#e0dbd8"/><rect x="247.77" y="242.05" width="14.31" height="15.1" fill="#cdd9ec"/><rect x="261.69" y="242.05" width="14.31" height="15.1" fill="#cdd9ec"/><rect x="275.6" y="242.05" width="14.31" height="15.1" fill="#e36c55"/><rect x="289.51" y="242.05" width="14.31" height="15.1" fill="#b40426"/><rect x="303.43" y="242.05" width="14.31" height="15.1" fill="#e9785d"/><rect x="317.34" y="242.05" width="14.31" height="15.1" fill="#d6dce4"/><rect x="331.25" y="242.05" width="14.31" height="15.1" fill="#ef886b"/><rect x="345.17" y="242.05" width="14.31" height="15.1" fill="#bad0f8"/><rect x="359.08" y="242.05" width="14.31" height="15.1" fill="#a3c2fe"/><rect x="372.99" y="242.05" width="14.31" height="15.1" fill="#c4d5f3"/><rect x="386.91" y="242.05" width="14.31" height="15.1" fill="#bad0f8"/><rect x="400.82" y="242.05" width="14.31" height="15.1" fill="#b5cdfa"/><rect x="414.73" y="242.05" width="14.31" height="15.1" fill="#f2c9b4"/><rect x="428.65" y="242.05" width="14.31" height="15.1" fill="#f59c7d"/><rect x="442.56" y="242.05" width="14.31" height="15.1" fill="#edd1c2"/><rect x="456.47" y="242.05" width="14.31" height="15.1" fill="#bcd2f7"/><rect x="470.39" y="242.05" width="13.91" height="15.1" fill="#edd1c2"/>
<rect x="66.9" y="256.74" width="14.31" height="15.1" fill="#e3d9d3"/><rect x="80.81" y="256.74" width="14.31" height="15.1" fill="#b3cdfb"/><rect x="94.73" y="256.74" width="14.31" height="15.1" fill="#e9d5cb"/><rect x="108.64" y="256.74" width="14.31" height="15.1" fill="#e2dad5"/><rect x="122.55" y="256.74" width="14.31" height="15.1" fill="#e4d9d2"/><rect x="136.47" y="256.74" width="14.31" height="15.1" fill="#f6a283"/><rect x="150.38" y="256.74" width="14.31" height="15.1" fill="#f39577"/><rect x="164.29" y="256.74" width="14.31" height="15.1" fill="#f7aa8c"/><rect x="178.21" y="256.74" width="14.31" height="15.1" fill="#e6d7cf"/><rect x="192.12" y="256.74" width="14.31" height="15.1" fill="#dcdddd"/><rect x="206.03" y="256.74" width="14.31" height="15.1" fill="#f5c2aa"/><rect x="219.95" y="256.74" width="14.31" height="15.1" fill="#c4d5f3"/><rect x="233.86" y="256.74" width="14.31" height="15.1" fill="#f7b99e"/><rect x="247.77" y="256.74" width="14.31" height="15.1" fill="#ead5c9"/><rect x="261.69" y="256.74" width="14.31" height="15.1" fill="#d9dce1"/><rect x="275.6" y="256.74" width="14.31" height="15.1" fill="#ec8165"/><rect x="289.51" y="256.74" width="14.31" height="15.1" fill="#e9785d"/><rect x="303.43" y="256.74" width="14.31" height="15.1" fill="#b40426"/><rect x="317.34" y="256.74" width="14.31" height="15.1" fill="#d6dce4"/><rect x="331.25" y="256.74" width="14.31" height="15.1" fill="#f7aa8c"/><rect x="345.17" y="256.74" width="14.31" height="15.1" fill="#dfdbd9"/><rect x="359.08" y="256.74" width="14.31" height="15.1" fill="#9fbfff"/><rect x="372.99" y="256.74" width="14.31" height="15.1" fill="#e6d7cf"/><rect x="386.91" y="256.74" width="14.31" height="15.1" fill="#dcdddd"/><rect x="400.82" y="256.74" width="14.31" height="15.1" fill="#c0d4f5"/><rect x="414.73" y="256.74" width="14.31" height="15.1" fill="#efcebd"/><rect x="428.65" y="256.74" width="14.31" height="15.1" fill="#f7ba9f"/><rect x="442.56" y="256.74" width="14.31" height="15.1" fill="#f7ad90"/><rect x="456.47" y="256.74" width="14.31" height="15.1" fill="#aec9fc"/><rect x="470.39" y="256.74" width="13.91" height="15.1" fill="#d6dce4"/>
<rect x="66.9" y="271.44" width="14.31" height="15.1" fill="#6c8ff1"/><rect x="80.81" y="271.44" width="14.31" height="15.1" fill="#8badfd"/><rect x="94.73" y="271.44" width="14.31" height="15.1" fill="#7295f4"/><rect x="108.64" y="271.44" width="14.31" height="15.1" fill="#7597f6"/><rect x="122.55" y="271.44" width="14.31" height="15.1" fill="#bed2f6"/><rect x="136.47" y="271.44" width="14.31" height="15.1" fill="#c4d5f3"/><rect x="150.38" y="271.44" width="14.31" height="15.1" fill="#b7cff9"/><rect x="164.29" y="271.44" width="14.31" height="15.1" fill="#a2c1ff"/><rect x="178.21" y="271.44" width="14.31" height="15.1" fill="#efcfbf"/><rect x="192.12" y="271.44" width="14.31" height="15.1" fill="#dddcdc"/><rect x="206.03" y="271.44" width="14.31" height="15.1" fill="#c6d6f1"/><rect x="219.95" y="271.44" width="14.31" height="15.1" fill="#ead5c9"/><rect x="233.86" y="271.44" width="14.31" height="15.1" fill="#ccd9ed"/><rect x="247.77" y="271.44" width="14.31" height="15.1" fill="#abc8fd"/><rect x="261.69" y="271.44" width="14.31" height="15.1" fill="#ead5c9"/><rect x="275.6" y="271.44" width="14.31" height="15.1" fill="#e6d7cf"/><rect x="289.51" y="271.44" width="14.31" height="15.1" fill="#d6dce4"/><rect x="303.43" y="271.44" width="14.31" height="15.1" fill="#d6dce4"/><rect x="317.34" y="271.44" width="14.31" height="15.1" fill="#b40426"/><rect x="331.25" y="271.44" width="14.31" height="15.1" fill="#e1dad6"/><rect x="345.17" y="271.44" width="14.31" height="15.1" fill="#6687ed"/><rect x="359.08" y="271.44" width="14.31" height="15.1" fill="#7396f5"/><rect x="372.99" y="271.44" width="14.31" height="15.1" fill="#6c8ff1"/><rect x="386.91" y="271.44" width="14.31" height="15.1" fill="#6b8df0"/><rect x="400.82" y="271.44" width="14.31" height="15.1" fill="#85a8fc"/><rect x="414.73" y="271.44" width="14.31" height="15.1" fill="#98b9ff"/><rect x="428.65" y="271.44" width="14.31" height="15.1" fill="#93b5fe"/><rect x="442.56" y="271.44" width="14.31" height="15.1" fill="#80a3fa"/><rect x="456.47" y="271.44" width="14.31" height="15.1" fill="#e5d8d1"/><rect x="470.39" y="271.44" width="13.91" height="15.1" fill="#9ebeff"/>
<rect x="66.9" y="286.14" width="14.31" height="15.1" fill="#7da0f9"/><rect x="80.81" y="286.14" width="14.31" height="15.1" fill="#97b8ff"/><rect x="94.73" y="286.14" width="14.31" height="15.1" fill="#86a9fc"/><rect x="108.64" y="286.14" width="14.31" height="15.1" fill="#82a6fb"/><rect x="122.55" y="286.14" width="14.31" height="15.1" fill="#d1dae9"/><rect x="136.47" y="286.14" width="14.31" height="15.1" fill="#f4c5ad"/><rect x="150.38" y="286.14" width="14.31" height="15.1" fill="#efcfbf"/><rect x="164.29" y="286.14" width="14.31" height="15.1" fill="#cbd8ee"/><rect x="178.21" y="286.14" width="14.31" height="15.1" fill="#dadce0"/><rect x="192.12" y="286.14" width="14.31" height="15.1" fill="#f39475"/><rect x="206.03" y="286.14" width="14.31" height="15.1" fill="#c4d5f3"/><rect x="219.95" y="286.14" width="14.31" height="15.1" fill="#cfdaea"/><rect x="233.86" y="286.14" width="14.31" height="15.1" fill="#c7d7f0"/><rect x="247.77" y="286.14" width="14.31" height="15.1" fill="#aac7fd"/><rect x="261.69" y="286.14" width="14.31" height="15.1" fill="#ecd3c5"/><rect x="275.6" y="286.14" width="14.31" height="15.1" fill="#e36c55"/><rect x="289.51" y="286.14" width="14.31" height="15.1" fill="#ef886b"/><rect x="303.43" y="286.14" width="14.31" height="15.1" fill="#f7aa8c"/><rect x="317.34" y="286.14" width="14.31" height="15.1" fill="#e1dad6"/><rect x="331.25" y="286.14" width="14.31" height="15.1" fill="#b40426"/><rect x="345.17" y="286.14" width="14.31" height="15.1" fill="#7ea1fa"/><rect x="359.08" y="286.14" width="14.31" height="15.1" fill="#88abfd"/><rect x="372.99" y="286.14" width="14.31" height="15.1" fill="#88abfd"/><rect x="386.91" y="286.14" width="14.31" height="15.1" fill="#82a6fb"/><rect x="400.82" y="286.14" width="14.31" height="15.1" fill="#b6cefa"/><rect x="414.73" y="286.14" width="14.31" height="15.1" fill="#e5d8d1"/><rect x="428.65" y="286.14" width="14.31" height="15.1" fill="#e3d9d3"/><rect x="442.56" y="286.14" width="14.31" height="15.1" fill="#c0d4f5"/><rect x="456.47" y="286.14" width="14.31" height="15.1" fill="#a6c4fe"/><rect x="470.39" y="286.14" width="13.91" height="15.1" fill="#f7b093"/>
<rect x="66.9" y="300.83" width="14.31" height="15.1" fill="#bb1b2c"/><rect x="80.81" y="300.83" width="14.31" height="15.1" fill="#dedcdb"/><rect x="94.73" y="300.83" width="14.31" height="15.1" fill="#bb1b2c"/><rect x="108.64" y="300.83" width="14.31" height="15.1" fill="#be242e"/><rect x="122.55" y="300.83" width="14.31" height="15.1" fill="#c0d4f5"/><rect x="136.47" y="300.83" width="14.31" height="15.1" fill="#f6bea4"/><rect x="150.38" y="300.83" width="14.31" height="15.1" fill="#f39475"/><rect x="164.29" y="300.83" width="14.31" height="15.1" fill="#df634e"/><rect x="178.21" y="300.83" width="14.31" height="15.1" fill="#bad0f8"/><rect x="192.12" y="300.83" width="14.31" height="15.1" fill="#485fd1"/><rect x="206.03" y="300.83" width="14.31" height="15.1" fill="#f08b6e"/><rect x="219.95" y="300.83" width="14.31" height="15.1" fill="#6b8df0"/><rect x="233.86" y="300.83" width="14.31" height="15.1" fill="#f29274"/><rect x="247.77" y="300.83" width="14.31" height="15.1" fill="#eb7d62"/><rect x="261.69" y="300.83" width="14.31" height="15.1" fill="#4c66d6"/><rect x="275.6" y="300.83" width="14.31" height="15.1" fill="#bed2f6"/><rect x="289.51" y="300.83" width="14.31" height="15.1" fill="#bad0f8"/><rect x="303.43" y="300.83" width="14.31" height="15.1" fill="#dfdbd9"/><rect x="317.34" y="300.83" width="14.31" height="15.1" fill="#6687ed"/><rect x="331.25" y="300.83" width="14.31" height="15.1" fill="#7ea1fa"/><rect x="345.17" y="300.83" width="14.31" height="15.1" fill="#b40426"/><rect x="359.08" y="300.83" width="14.31" height="15.1" fill="#e0dbd8"/><rect x="372.99" y="300.83" width="14.31" height="15.1" fill="#b50927"/><rect x="386.91" y="300.83" width="14.31" height="15.1" fill="#b8122a"/><rect x="400.82" y="300.83" width="14.31" height="15.1" fill="#c1d4f4"/><rect x="414.73" y="300.83" width="14.31" height="15.1" fill="#f2cbb7"/><rect x="428.65" y="300.83" width="14.31" height="15.1" fill="#f7b599"/><rect x="442.56" y="300.83" width="14.31" height="15.1" fill="#e67259"/><rect x="456.47" y="300.83" width="14.31" height="15.1" fill="#c7d7f0"/><rect x="470.39" y="300.83" width="13.91" height="15.1" fill="#a2c1ff"/>
<rect x="66.9" y="315.53" width="14.31" height="15.1" fill="#d3dbe7"/><rect x="80.81" y="315.53" width="14.31" height="15.1" fill="#cc403a"/><rect x="94.73" y="315.53" width="14.31" height="15.1" fill="#d4dbe6"/><rect x="108.64" y="315.53" width="14.31" height="15.1" fill="#d1dae9"/><rect x="122.55" y="315.53" width="14.31" height="15.1" fill="#92b4fe"/><rect x="136.47" y="315.53" width="14.31" height="15.1" fill="#c9d7f0"/><rect x="150.38" y="315.53" width="14.31" height="15.1" fill="#d4dbe6"/><rect x="164.29" y="315.53" width="14.31" height="15.1" fill="#d2dbe8"/><rect x="178.21" y="315.53" width="14.31" height="15.1" fill="#a1c0ff"/><rect x="192.12" y="315.53" width="14.31" height="15.1" fill="#7a9df8"/><rect x="206.03" y="315.53" width="14.31" height="15.1" fill="#bbd1f8"/><rect x="219.95" y="315.53" width="14.31" height="15.1" fill="#e9d5cb"/><rect x="233.86" y="315.53" width="14.31" height="15.1" fill="#bcd2f7"/><rect x="247.77" y="315.53" width="14.31" height="15.1" fill="#bcd2f7"/><rect x="261.69" y="315.53" width="14.31" height="15.1" fill="#7597f6"/><rect x="275.6" y="315.53" width="14.31" height="15.1" fill="#aec9fc"/><rect x="289.51" y="315.53" width="14.31" height="15.1" fill="#a3c2fe"/><rect x="303.43" y="315.53" width="14.31" height="15.1" fill="#9fbfff"/><rect x="317.34" y="315.53" width="14.31" height="15.1" fill="#7396f5"/><rect x="331.25" y="315.53" width="14.31" height="15.1" fill="#88abfd"/><rect x="345.17" y="315.53" width="14.31" height="15.1" fill="#e0dbd8"/><rect x="359.08" y="315.53" width="14.31" height="15.1" fill="#b40426"/><rect x="372.99" y="315.53" width="14.31" height="15.1" fill="#e1dad6"/><rect x="386.91" y="315.53" width="14.31" height="15.1" fill="#dddcdc"/><rect x="400.82" y="315.53" width="14.31" height="15.1" fill="#c3d5f4"/><rect x="414.73" y="315.53" width="14.31" height="15.1" fill="#e0dbd8"/><rect x="428.65" y="315.53" width="14.31" height="15.1" fill="#e1dad6"/><rect x="442.56" y="315.53" width="14.31" height="15.1" fill="#e0dbd8"/><rect x="456.47" y="315.53" width="14.31" height="15.1" fill="#c5d6f2"/><rect x="470.39" y="315.53" width="13.91" height="15.1" fill="#c1d4f4"/>
<rect x="66.9" y="330.23" width="14.31" height="15.1" fill="#bd1f2d"/><rect x="80.81" y="330.23" width="14.31" height="15.1" fill="#dfdbd9"/><rect x="94.73" y="330.23" width="14.31" height="15.1" fill="#bb1b2c"/><rect x="108.64" y="330.23" width="14.31" height="15.1" fill="#be242e"/><rect x="122.55" y="330.23" width="14.31" height="15.1" fill="#c6d6f1"/><rect x="136.47" y="330.23" width="14.31" height="15.1" fill="#f7b093"/><rect x="150.38" y="330.23" width="14.31" height="15.1" fill="#ee8669"/><rect x="164.29" y="330.23" width="14.31" height="15.1" fill="#d95847"/><rect x="178.21" y="330.23" width="14.31" height="15.1" fill="#c1d4f4"/><rect x="192.12" y="330.23" width="14.31" height="15.1" fill="#536edd"/><rect x="206.03" y="330.23" width="14.31" height="15.1" fill="#f08a6c"/><rect x="219.95" y="330.23" width="14.31" height="15.1" fill="#6c8ff1"/><rect x="233.86" y="330.23" width="14.31" height="15.1" fill="#f08a6c"/><rect x="247.77" y="330.23" width="14.31" height="15.1" fill="#ea7b60"/><rect x="261.69" y="330.23" width="14.31" height="15.1" fill="#506bda"/><rect x="275.6" y="330.23" width="14.31" height="15.1" fill="#cbd8ee"/><rect x="289.51" y="330.23" width="14.31" height="15.1" fill="#c4d5f3"/><rect x="303.43" y="330.23" width="14.31" height="15.1" fill="#e6d7cf"/><rect x="317.34" y="330.23" width="14.31" height="15.1" fill="#6c8ff1"/><rect x="331.25" y="330.23" width="14.31" height="15.1" fill="#88abfd"/><rect x="345.17" y="330.23" width="14.31" height="15.1" fill="#b50927"/><rect x="359.08" y="330.23" width="14.31" height="15.1" fill="#e1dad6"/><rect x="372.99" y="330.23" width="14.31" height="15.1" fill="#b40426"/><rect x="386.91" y="330.23" width="14.31" height="15.1" fill="#ba162b"/><rect x="400.82" y="330.23" width="14.31" height="15.1" fill="#c6d6f1"/><rect x="414.73" y="330.23" width="14.31" height="15.1" fill="#f6bfa6"/><rect x="428.65" y="330.23" width="14.31" height="15.1" fill="#f7a98b"/><rect x="442.56" y="330.23" width="14.31" height="15.1" fill="#e16751"/><rect x="456.47" y="330.23" width="14.31" height="15.1" fill="#cdd9ec"/><rect x="470.39" y="330.23" width="13.91" height="15.1" fill="#adc9fd"/>
<rect x="66.9" y="344.92" width="14.31" height="15.1" fill="#c43032"/><rect x="80.81" y="344.92" width="14.31" height="15.1" fill="#dcdddd"/><rect x="94.73" y="344.92" width="14.31" height="15.1" fill="#c43032"/><rect x="108.64" y="344.92" width="14.31" height="15.1" fill="#be242e"/><rect x="122.55" y="344.92" width="14.31" height="15.1" fill="#bfd3f6"/><rect x="136.47" y="344.92" width="14.31" height="15.1" fill="#f5c4ac"/><rect x="150.38" y="344.92" width="14.31" height="15.1" fill="#f4987a"/><rect x="164.29" y="344.92" width="14.31" height="15.1" fill="#e36b54"/><rect x="178.21" y="344.92" width="14.31" height="15.1" fill="#b7cff9"/><rect x="192.12" y="344.92" width="14.31" height="15.1" fill="#4c66d6"/><rect x="206.03" y="344.92" width="14.31" height="15.1" fill="#ec7f63"/><rect x="219.95" y="344.92" width="14.31" height="15.1" fill="#7295f4"/><rect x="233.86" y="344.92" width="14.31" height="15.1" fill="#ee8669"/><rect x="247.77" y="344.92" width="14.31" height="15.1" fill="#e26952"/><rect x="261.69" y="344.92" width="14.31" height="15.1" fill="#5977e3"/><rect x="275.6" y="344.92" width="14.31" height="15.1" fill="#bcd2f7"/><rect x="289.51" y="344.92" width="14.31" height="15.1" fill="#bad0f8"/><rect x="303.43" y="344.92" width="14.31" height="15.1" fill="#dcdddd"/><rect x="317.34" y="344.92" width="14.31" height="15.1" fill="#6b8df0"/><rect x="331.25" y="344.92" width="14.31" height="15.1" fill="#82a6fb"/><rect x="345.17" y="344.92" width="14.31" height="15.1" fill="#b8122a"/><rect x="359.08" y="344.92" width="14.31" height="15.1" fill="#dddcdc"/><rect x="372.99" y="344.92" width="14.31" height="15.1" fill="#ba162b"/><rect x="386.91" y="344.92" width="14.31" height="15.1" fill="#b40426"/><rect x="400.82" y="344.92" width="14.31" height="15.1" fill="#bfd3f6"/><rect x="414.73" y="344.92" width="14.31" height="15.1" fill="#edd1c2"/><rect x="428.65" y="344.92" width="14.31" height="15.1" fill="#f6bda2"/><rect x="442.56" y="344.92" width="14.31" height="15.1" fill="#ec8165"/><rect x="456.47" y="344.92" width="14.31" height="15.1" fill="#bfd3f6"/><rect x="470.39" y="344.92" width="13.91" height="15.1" fill="#9ebeff"/>
<rect x="66.9" y="359.62" width="14.31" height="15.1" fill="#a9c6fd"/><rect x="80.81" y="359.62" width="14.31" height="15.1" fill="#9dbdff"/><rect x="94.73" y="359.62" width="14.31" height="15.1" fill="#b1cbfc"/><rect x="108.64" y="359.62" width="14.31" height="15.1" fill="#a9c6fd"/><rect x="122.55" y="359.62" width="14.31" height="15.1" fill="#e36b54"/><rect x="136.47" y="359.62" width="14.31" height="15.1" fill="#f7b79b"/><rect x="150.38" y="359.62" width="14.31" height="15.1" fill="#efcfbf"/><rect x="164.29" y="359.62" width="14.31" height="15.1" fill="#efcebd"/><rect x="178.21" y="359.62" width="14.31" height="15.1" fill="#ecd3c5"/><rect x="192.12" y="359.62" width="14.31" height="15.1" fill="#f4c5ad"/><rect x="206.03" y="359.62" width="14.31" height="15.1" fill="#aec9fc"/><rect x="219.95" y="359.62" width="14.31" height="15.1" fill="#7597f6"/><rect x="233.86" y="359.62" width="14.31" height="15.1" fill="#abc8fd"/><rect x="247.77" y="359.62" width="14.31" height="15.1" fill="#aac7fd"/><rect x="261.69" y="359.62" width="14.31" height="15.1" fill="#d7dce3"/><rect x="275.6" y="359.62" width="14.31" height="15.1" fill="#c4d5f3"/><rect x="289.51" y="359.62" width="14.31" height="15.1" fill="#b5cdfa"/><rect x="303.43" y="359.62" width="14.31" height="15.1" fill="#c0d4f5"/><rect x="317.34" y="359.62" width="14.31" height="15.1" fill="#85a8fc"/><rect x="331.25" y="359.62" width="14.31" height="15.1" fill="#b6cefa"/><rect x="345.17" y="359.62" width="14.31" height="15.1" fill="#c1d4f4"/><rect x="359.08" y="359.62" width="14.31" height="15.1" fill="#c3d5f4"/><rect x="372.99" y="359.62" width="14.31" height="15.1" fill="#c6d6f1"/><rect x="386.91" y="359.62" width="14.31" height="15.1" fill="#bfd3f6"/><rect x="400.82" y="359.62" width="14.31" height="15.1" fill="#b40426"/><rect x="414.73" y="359.62" width="14.31" height="15.1" fill="#f7b79b"/><rect x="428.65" y="359.62" width="14.31" height="15.1" fill="#f5c1a9"/><rect x="442.56" y="359.62" width="14.31" height="15.1" fill="#f7bca1"/><rect x="456.47" y="359.62" width="14.31" height="15.1" fill="#f3c7b1"/><rect x="470.39" y="359.62" width="13.91" height="15.1" fill="#f7a98b"/>
<rect x="66.9" y="374.32" width="14.31" height="15.1" fill="#ead5c9"/><rect x="80.81" y="374.32" width="14.31" height="15.1" fill="#cfdaea"/><rect x="94.73" y="374.32" width="14.31" height="15.1" fill="#efcebd"/><rect x="108.64" y="374.32" width="14.31" height="15.1" fill="#e6d7cf"/><rect x="122.55" y="374.32" width="14.31" height="15.1" fill="#f2cbb7"/><rect x="136.47" y="374.32" width="14.31" height="15.1" fill="#d75445"/><rect x="150.38" y="374.32" width="14.31" height="15.1" fill="#eb7d62"/><rect x="164.29" y="374.32" width="14.31" height="15.1" fill="#f49a7b"/><rect x="178.21" y="374.32" width="14.31" height="15.1" fill="#f2cbb7"/><rect x="192.12" y="374.32" width="14.31" height="15.1" fill="#f0cdbb"/><rect x="206.03" y="374.32" width="14.31" height="15.1" fill="#d1dae9"/><rect x="219.95" y="374.32" width="14.31" height="15.1" fill="#6f92f3"/><rect x="233.86" y="374.32" width="14.31" height="15.1" fill="#dcdddd"/><rect x="247.77" y="374.32" width="14.31" height="15.1" fill="#d1dae9"/><rect x="261.69" y="374.32" width="14.31" height="15.1" fill="#799cf8"/><rect x="275.6" y="374.32" width="14.31" height="15.1" fill="#f39778"/><rect x="289.51" y="374.32" width="14.31" height="15.1" fill="#f2c9b4"/><rect x="303.43" y="374.32" width="14.31" height="15.1" fill="#efcebd"/><rect x="317.34" y="374.32" width="14.31" height="15.1" fill="#98b9ff"/><rect x="331.25" y="374.32" width="14.31" height="15.1" fill="#e5d8d1"/><rect x="345.17" y="374.32" width="14.31" height="15.1" fill="#f2cbb7"/><rect x="359.08" y="374.32" width="14.31" height="15.1" fill="#e0dbd8"/><rect x="372.99" y="374.32" width="14.31" height="15.1" fill="#f6bfa6"/><rect x="386.91" y="374.32" width="14.31" height="15.1" fill="#edd1c2"/><rect x="400.82" y="374.32" width="14.31" height="15.1" fill="#f7b79b"/><rect x="414.73" y="374.32" width="14.31" height="15.1" fill="#b40426"/><rect x="428.65" y="374.32" width="14.31" height="15.1" fill="#d1493f"/><rect x="442.56" y="374.32" width="14.31" height="15.1" fill="#e36c55"/><rect x="456.47" y="374.32" width="14.31" height="15.1" fill="#f7aa8c"/><rect x="470.39" y="374.32" width="13.91" height="15.1" fill="#e26952"/>
<rect x="66.9" y="389.01" width="14.31" height="15.1" fill="#f5c0a7"/><rect x="80.81" y="389.01" width="14.31" height="15.1" fill="#d4dbe6"/><rect x="94.73" y="389.01" width="14.31" height="15.1" fill="#f7b89c"/><rect x="108.64" y="389.01" width="14.31" height="15.1" fill="#f5c4ac"/><rect x="122.55" y="389.01" width="14.31" height="15.1" fill="#edd2c3"/><rect x="136.47" y="389.01" width="14.31" height="15.1" fill="#e16751"/><rect x="150.38" y="389.01" width="14.31" height="15.1" fill="#d24b40"/><rect x="164.29" y="389.01" width="14.31" height="15.1" fill="#ec7f63"/><rect x="178.21" y="389.01" width="14.31" height="15.1" fill="#edd2c3"/><rect x="192.12" y="389.01" width="14.31" height="15.1" fill="#dddcdc"/><rect x="206.03" y="389.01" width="14.31" height="15.1" fill="#e4d9d2"/><rect x="219.95" y="389.01" width="14.31" height="15.1" fill="#7699f6"/><rect x="233.86" y="389.01" width="14.31" height="15.1" fill="#ead4c8"/><rect x="247.77" y="389.01" width="14.31" height="15.1" fill="#e4d9d2"/><rect x="261.69" y="389.01" width="14.31" height="15.1" fill="#799cf8"/><rect x="275.6" y="389.01" width="14.31" height="15.1" fill="#f6a385"/><rect x="289.51" y="389.01" width="14.31" height="15.1" fill="#f59c7d"/><rect x="303.43" y="389.01" width="14.31" height="15.1" fill="#f7ba9f"/><rect x="317.34" y="389.01" width="14.31" height="15.1" fill="#93b5fe"/><rect x="331.25" y="389.01" width="14.31" height="15.1" fill="#e3d9d3"/><rect x="345.17" y="389.01" width="14.31" height="15.1" fill="#f7b599"/><rect x="359.08" y="389.01" width="14.31" height="15.1" fill="#e1dad6"/><rect x="372.99" y="389.01" width="14.31" height="15.1" fill="#f7a98b"/><rect x="386.91" y="389.01" width="14.31" height="15.1" fill="#f6bda2"/><rect x="400.82" y="389.01" width="14.31" height="15.1" fill="#f5c1a9"/><rect x="414.73" y="389.01" width="14.31" height="15.1" fill="#d1493f"/><rect x="428.65" y="389.01" width="14.31" height="15.1" fill="#b40426"/><rect x="442.56" y="389.01" width="14.31" height="15.1" fill="#d95847"/><rect x="456.47" y="389.01" width="14.31" height="15.1" fill="#f6bfa6"/><rect x="470.39" y="389.01" width="13.91" height="15.1" fill="#f39577"/>
<rect x="66.9" y="403.71" width="14.31" height="15.1" fill="#ec8165"/><rect x="80.81" y="403.71" width="14.31" height="15.1" fill="#d3dbe7"/><rect x="94.73" y="403.71" width="14.31" height="15.1" fill="#e9785d"/><rect x="108.64" y="403.71" width="14.31" height="15.1" fill="#f08a6c"/><rect x="122.55" y="403.71" width="14.31" height="15.1" fill="#f4c5ad"/><rect x="136.47" y="403.71" width="14.31" height="15.1" fill="#e16751"/><rect x="150.38" y="403.71" width="14.31" height="15.1" fill="#d85646"/><rect x="164.29" y="403.71" width="14.31" height="15.1" fill="#cc403a"/><rect x="178.21" y="403.71" width="14.31" height="15.1" fill="#ecd3c5"/><rect x="192.12" y="403.71" width="14.31" height="15.1" fill="#b7cff9"/><rect x="206.03" y="403.71" width="14.31" height="15.1" fill="#f6bfa6"/><rect x="219.95" y="403.71" width="14.31" height="15.1" fill="#688aef"/><rect x="233.86" y="403.71" width="14.31" height="15.1" fill="#f7b99e"/><rect x="247.77" y="403.71" width="14.31" height="15.1" fill="#f6bea4"/><rect x="261.69" y="403.71" width="14.31" height="15.1" fill="#6c8ff1"/><rect x="275.6" y="403.71" width="14.31" height="15.1" fill="#f2c9b4"/><rect x="289.51" y="403.71" width="14.31" height="15.1" fill="#edd1c2"/><rect x="303.43" y="403.71" width="14.31" height="15.1" fill="#f7ad90"/><rect x="317.34" y="403.71" width="14.31" height="15.1" fill="#80a3fa"/><rect x="331.25" y="403.71" width="14.31" height="15.1" fill="#c0d4f5"/><rect x="345.17" y="403.71" width="14.31" height="15.1" fill="#e67259"/><rect x="359.08" y="403.71" width="14.31" height="15.1" fill="#e0dbd8"/><rect x="372.99" y="403.71" width="14.31" height="15.1" fill="#e16751"/><rect x="386.91" y="403.71" width="14.31" height="15.1" fill="#ec8165"/><rect x="400.82" y="403.71" width="14.31" height="15.1" fill="#f7bca1"/><rect x="414.73" y="403.71" width="14.31" height="15.1" fill="#e36c55"/><rect x="428.65" y="403.71" width="14.31" height="15.1" fill="#d95847"/><rect x="442.56" y="403.71" width="14.31" height="15.1" fill="#b40426"/><rect x="456.47" y="403.71" width="14.31" height="15.1" fill="#f4c6af"/><rect x="470.39" y="403.71" width="13.91" height="15.1" fill="#f5c4ac"/>
<rect x="66.9" y="418.41" width="14.31" height="15.1" fill="#b3cdfb"/><rect x="80.81" y="418.41" width="14.31" height="15.1" fill="#a5c3fe"/><rect x="94.73" y="418.41" width="14.31" height="15.1" fill="#bad0f8"/><rect x="108.64" y="418.41" width="14.31" height="15.1" fill="#aec9fc"/><rect x="122.55" y="418.41" width="14.31" height="15.1" fill="#e6d7cf"/><rect x="136.47" y="418.41" width="14.31" height="15.1" fill="#f5c4ac"/><rect x="150.38" y="418.41" width="14.31" height="15.1" fill="#e9d5cb"/><rect x="164.29" y="418.41" width="14.31" height="15.1" fill="#e3d9d3"/><rect x="178.21" y="418.41" width="14.31" height="15.1" fill="#f29072"/><rect x="192.12" y="418.41" width="14.31" height="15.1" fill="#dbdcde"/><rect x="206.03" y="418.41" width="14.31" height="15.1" fill="#a2c1ff"/><rect x="219.95" y="418.41" width="14.31" height="15.1" fill="#6687ed"/><rect x="233.86" y="418.41" width="14.31" height="15.1" fill="#a6c4fe"/><rect x="247.77" y="418.41" width="14.31" height="15.1" fill="#9dbdff"/><rect x="261.69" y="418.41" width="14.31" height="15.1" fill="#6b8df0"/><rect x="275.6" y="418.41" width="14.31" height="15.1" fill="#cfdaea"/><rect x="289.51" y="418.41" width="14.31" height="15.1" fill="#bcd2f7"/><rect x="303.43" y="418.41" width="14.31" height="15.1" fill="#aec9fc"/><rect x="317.34" y="418.41" width="14.31" height="15.1" fill="#e5d8d1"/><rect x="331.25" y="418.41" width="14.31" height="15.1" fill="#a6c4fe"/><rect x="345.17" y="418.41" width="14.31" height="15.1" fill="#c7d7f0"/><rect x="359.08" y="418.41" width="14.31" height="15.1" fill="#c5d6f2"/><rect x="372.99" y="418.41" width="14.31" height="15.1" fill="#cdd9ec"/><rect x="386.91" y="418.41" width="14.31" height="15.1" fill="#bfd3f6"/><rect x="400.82" y="418.41" width="14.31" height="15.1" fill="#f3c7b1"/><rect x="414.73" y="418.41" width="14.31" height="15.1" fill="#f7aa8c"/><rect x="428.65" y="418.41" width="14.31" height="15.1" fill="#f6bfa6"/><rect x="442.56" y="418.41" width="14.31" height="15.1" fill="#f4c6af"/><rect x="456.47" y="418.41" width="14.31" height="15.1" fill="#b40426"/><rect x="470.39" y="418.41" width="13.91" height="15.1" fill="#f6bea4"/>
<rect x="66.9" y="433.1" width="14.31" height="14.7" fill="#8badfd"/><rect x="80.81" y="433.1" width="14.31" height="14.7" fill="#a9c6fd"/><rect x="94.73" y="433.1" width="14.31" height="14.7" fill="#96b7ff"/><rect x="108.64" y="433.1" width="14.31" height="14.7" fill="#89acfd"/><rect x="122.55" y="433.1" width="14.31" height="14.7" fill="#f4c6af"/><rect x="136.47" y="433.1" width="14.31" height="14.7" fill="#f39577"/><rect x="150.38" y="433.1" width="14.31" height="14.7" fill="#f5c2aa"/><rect x="164.29" y="433.1" width="14.31" height="14.7" fill="#e1dad6"/><rect x="178.21" y="433.1" width="14.31" height="14.7" fill="#edd1c2"/><rect x="192.12" y="433.1" width="14.31" height="14.7" fill="#e97a5f"/><rect x="206.03" y="433.1" width="14.31" height="14.7" fill="#96b7ff"/><rect x="219.95" y="433.1" width="14.31" height="14.7" fill="#7b9ff9"/><rect x="233.86" y="433.1" width="14.31" height="14.7" fill="#9fbfff"/><rect x="247.77" y="433.1" width="14.31" height="14.7" fill="#8db0fe"/><rect x="261.69" y="433.1" width="14.31" height="14.7" fill="#a3c2fe"/><rect x="275.6" y="433.1" width="14.31" height="14.7" fill="#f7b093"/><rect x="289.51" y="433.1" width="14.31" height="14.7" fill="#edd1c2"/><rect x="303.43" y="433.1" width="14.31" height="14.7" fill="#d6dce4"/><rect x="317.34" y="433.1" width="14.31" height="14.7" fill="#9ebeff"/><rect x="331.25" y="433.1" width="14.31" height="14.7" fill="#f7b093"/><rect x="345.17" y="433.1" width="14.31" height="14.7" fill="#a2c1ff"/><rect x="359.08" y="433.1" width="14.31" height="14.7" fill="#c1d4f4"/><rect x="372.99" y="433.1" width="14.31" height="14.7" fill="#adc9fd"/><rect x="386.91" y="433.1" width="14.31" height="14.7" fill="#9ebeff"/><rect x="400.82" y="433.1" width="14.31" height="14.7" fill="#f7a98b"/><rect x="414.73" y="433.1" width="14.31" height="14.7" fill="#e26952"/><rect x="428.65" y="433.1" width="14.31" height="14.7" fill="#f39577"/><rect x="442.56" y="433.1" width="14.31" height="14.7" fill="#f5c4ac"/><rect x="456.47" y="433.1" width="14.31" height="14.7" fill="#f6bea4"/><rect x="470.39" y="433.1" width="13.91" height="14.7" fill="#b40426"/>
</g>
<rect x="510.9" y="6.9" width="21.1" height="440.9" fill="url(#cb)"/>
<g filter="url(#b)">
<g class="a" transform="scale(1 1.27)">
<text class="w" x="73.86" y="12.86">1</text><text class="k" x="87.77" y="12.86">0.32</text><text class="w" x="101.68" y="12.86">1</text><text class="w" x="115.6" y="12.86">0.99</text><text class="k" x="129.51" y="12.86">0.17</text><text class="k" x="143.42" y="12.86">0.51</text><text class="k" x="157.34" y="12.86">0.68</text><text class="w" x="171.25" y="12.86">0.82</text><text class="k" x="185.16" y="12.86">0.15</text><text class="w" x="199.08" y="12.86">-0.31</text><text class="k" x="212.99" y="12.86">0.68</text><text class="w" x="226.9" y="12.86">-0.097</text><text class="k" x="240.82" y="12.86">0.67</text><text class="w" x="254.73" y="12.86">0.74</text><text class="w" x="268.64" y="12.86">-0.22</text><text class="k" x="282.56" y="12.86">0.21</text><text class="k" x="296.47" y="12.86">0.19</text><text class="k" x="310.38" y="12.86">0.38</text><text class="w" x="324.3" y="12.86">-0.1</text><text class="w" x="338.21" y="12.86">-0.043</text><text class="w" x="352.12" y="12.86">0.97</text><text class="k" x="366.04" y="12.86">0.3</text><text class="w" x="379.95" y="12.86">0.97</text><text class="w" x="393.86" y="12.86">0.94</text><text class="k" x="407.78" y="12.86">0.12</text><text class="k" x="421.69" y="12.86">0.41</text><text class="k" x="435.6" y="12.86">0.53</text><text class="w" x="449.52" y="12.86">0.74</text><text class="k" x="463.43" y="12.86">0.16</text><text class="k" x="477.34" y="12.86">0.0071</text>
<text class="k" x="73.86" y="24.44">0.32</text><text class="w" x="87.77" y="24.44">1</text><text class="k" x="101.68" y="24.44">0.33</text><text class="k" x="115.6" y="24.44">0.32</text><text class="w" x="129.51" y="24.44">-0.023</text><text class="k" x="143.42" y="24.44">0.24</text><text class="k" x="157.34" y="24.44">0.3</text><text class="k" x="171.25" y="24.44">0.29</text><text class="k" x="185.16" y="24.44">0.071</text><text class="w" x="199.08" y="24.44">-0.076</text><text class="k" x="212.99" y="24.44">0.28</text><text class="k" x="226.9" y="24.44">0.39</text><text class="k" x="240.82" y="24.44">0.28</text><text class="k" x="254.73" y="24.44">0.26</text><text class="k" x="268.64" y="24.44">0.0066</text><text class="k" x="282.56" y="24.44">0.19</text><text class="k" x="296.47" y="24.44">0.14</text><text class="k" x="310.38" y="24.44">0.16</text><text class="k" x="324.3" y="24.44">0.0091</text><text class="k" x="338.21" y="24.44">0.054</text><text class="k" x="352.12" y="24.44">0.35</text><text class="w" x="366.04" y="24.44">0.91</text><text class="k" x="379.95" y="24.44">0.36</text><text class="k" x="393.86" y="24.44">0.34</text><text class="k" x="407.78" y="24.44">0.078</text><text class="k" x="421.69" y="24.44">0.28</text><text class="k" x="435.6" y="24.44">0.3</text><text class="k" x="449.52" y="24.44">0.3</text><text class="k" x="463.43" y="24.44">0.11</text><text class="k" x="477.34" y="24.44">0.12</text>
<text class="w" x="73.86" y="36.02">1</text><text class="k" x="87.77" y="36.02">0.33</text><text class="w" x="101.68" y="36.02">1</text><text class="w" x="115.6" y="36.02">0.99</text><text class="k" x="129.51" y="36.02">0.21</text><text class="k" x="143.42" y="36.02">0.56</text><text class="w" x="157.34" y="36.02">0.72</text><text class="w" x="171.25" y="36.02">0.85</text><text class="k" x="185.16" y="36.02">0.18</text><text class="w" x="199.08" y="36.02">-0.26</text><text class="k" x="212.99" y="36.02">0.69</text><text class="w" x="226.9" y="36.02">-0.087</text><text class="w" x="240.82" y="36.02">0.69</text><text class="w" x="254.73" y="36.02">0.74</text><text class="w" x="268.64" y="36.02">-0.2</text><text class="k" x="282.56" y="36.02">0.25</text><text class="k" x="296.47" y="36.02">0.23</text><text class="k" x="310.38" y="36.02">0.41</text><text class="w" x="324.3" y="36.02">-0.082</text><text class="w" x="338.21" y="36.02">-0.0055</text><text class="w" x="352.12" y="36.02">0.97</text><text class="k" x="366.04" y="36.02">0.3</text><text class="w" x="379.95" y="36.02">0.97</text><text class="w" x="393.86" y="36.02">0.94</text><text class="k" x="407.78" y="36.02">0.15</text><text class="k" x="421.69" y="36.02">0.46</text><text class="k" x="435.6" y="36.02">0.56</text><text class="w" x="449.52" y="36.02">0.77</text><text class="k" x="463.43" y="36.02">0.19</text><text class="k" x="477.34" y="36.02">0.051</text>
<text class="w" x="73.86" y="47.6">0.99</text><text class="k" x="87.77" y="47.6">0.32</text><text class="w" x="101.68" y="47.6">0.99</text><text class="w" x="115.6" y="47.6">1</text><text class="k" x="129.51" y="47.6">0.18</text><text class="k" x="143.42" y="47.6">0.5</text><text class="k" x="157.34" y="47.6">0.69</text><text class="w" x="171.25" y="47.6">0.82</text><text class="k" x="185.16" y="47.6">0.15</text><text class="w" x="199.08" y="47.6">-0.28</text><text class="w" x="212.99" y="47.6">0.73</text><text class="w" x="226.9" y="47.6">-0.066</text><text class="w" x="240.82" y="47.6">0.73</text><text class="w" x="254.73" y="47.6">0.8</text><text class="w" x="268.64" y="47.6">-0.17</text><text class="k" x="282.56" y="47.6">0.21</text><text class="k" x="296.47" y="47.6">0.21</text><text class="k" x="310.38" y="47.6">0.37</text><text class="w" x="324.3" y="47.6">-0.072</text><text class="w" x="338.21" y="47.6">-0.02</text><text class="w" x="352.12" y="47.6">0.96</text><text class="k" x="366.04" y="47.6">0.29</text><text class="w" x="379.95" y="47.6">0.96</text><text class="w" x="393.86" y="47.6">0.96</text><text class="k" x="407.78" y="47.6">0.12</text><text class="k" x="421.69" y="47.6">0.39</text><text class="k" x="435.6" y="47.6">0.51</text><text class="w" x="449.52" y="47.6">0.72</text><text class="k" x="463.43" y="47.6">0.14</text><text class="k" x="477.34" y="47.6">0.0037</text>
<text class="k" x="73.86" y="59.19">0.17</text><text class="w" x="87.77" y="59.19">-0.023</text><text class="k" x="101.68" y="59.19">0.21</text><text class="k" x="115.6" y="59.19">0.18</text><text class="w" x="129.51" y="59.19">1</text><text class="k" x="143.42" y="59.19">0.66</text><text class="k" x="157.34" y="59.19">0.52</text><text class="k" x="171.25" y="59.19">0.55</text><text class="k" x="185.16" y="59.19">0.56</text><text class="k" x="199.08" y="59.19">0.58</text><text class="k" x="212.99" y="59.19">0.3</text><text class="k" x="226.9" y="59.19">0.068</text><text class="k" x="240.82" y="59.19">0.3</text><text class="k" x="254.73" y="59.19">0.25</text><text class="k" x="268.64" y="59.19">0.33</text><text class="k" x="282.56" y="59.19">0.32</text><text class="k" x="296.47" y="59.19">0.25</text><text class="k" x="310.38" y="59.19">0.38</text><text class="k" x="324.3" y="59.19">0.2</text><text class="k" x="338.21" y="59.19">0.28</text><text class="k" x="352.12" y="59.19">0.21</text><text class="k" x="366.04" y="59.19">0.036</text><text class="k" x="379.95" y="59.19">0.24</text><text class="k" x="393.86" y="59.19">0.21</text><text class="w" x="407.78" y="59.19">0.81</text><text class="k" x="421.69" y="59.19">0.47</text><text class="k" x="435.6" y="59.19">0.43</text><text class="k" x="449.52" y="59.19">0.5</text><text class="k" x="463.43" y="59.19">0.39</text><text class="k" x="477.34" y="59.19">0.5</text>
<text class="k" x="73.86" y="70.77">0.51</text><text class="k" x="87.77" y="70.77">0.24</text><text class="k" x="101.68" y="70.77">0.56</text><text class="k" x="115.6" y="70.77">0.5</text><text class="k" x="129.51" y="70.77">0.66</text><text class="w" x="143.42" y="70.77">1</text><text class="w" x="157.34" y="70.77">0.88</text><text class="w" x="171.25" y="70.77">0.83</text><text class="k" x="185.16" y="70.77">0.6</text><text class="k" x="199.08" y="70.77">0.57</text><text class="k" x="212.99" y="70.77">0.5</text><text class="k" x="226.9" y="70.77">0.046</text><text class="k" x="240.82" y="70.77">0.55</text><text class="k" x="254.73" y="70.77">0.46</text><text class="k" x="268.64" y="70.77">0.14</text><text class="w" x="282.56" y="70.77">0.74</text><text class="k" x="296.47" y="70.77">0.57</text><text class="k" x="310.38" y="70.77">0.64</text><text class="k" x="324.3" y="70.77">0.23</text><text class="k" x="338.21" y="70.77">0.51</text><text class="k" x="352.12" y="70.77">0.54</text><text class="k" x="366.04" y="70.77">0.25</text><text class="k" x="379.95" y="70.77">0.59</text><text class="k" x="393.86" y="70.77">0.51</text><text class="k" x="407.78" y="70.77">0.57</text><text class="w" x="421.69" y="70.77">0.87</text><text class="w" x="435.6" y="70.77">0.82</text><text class="w" x="449.52" y="70.77">0.82</text><text class="k" x="463.43" y="70.77">0.51</text><text class="k" x="477.34" y="70.77">0.69</text>
<text class="k" x="73.86" y="82.35">0.68</text><text class="k" x="87.77" y="82.35">0.3</text><text class="w" x="101.68" y="82.35">0.72</text><text class="k" x="115.6" y="82.35">0.69</text><text class="k" x="129.51" y="82.35">0.52</text><text class="w" x="143.42" y="82.35">0.88</text><text class="w" x="157.34" y="82.35">1</text><text class="w" x="171.25" y="82.35">0.92</text><text class="k" x="185.16" y="82.35">0.5</text><text class="k" x="199.08" y="82.35">0.34</text><text class="k" x="212.99" y="82.35">0.63</text><text class="k" x="226.9" y="82.35">0.076</text><text class="k" x="240.82" y="82.35">0.66</text><text class="k" x="254.73" y="82.35">0.62</text><text class="k" x="268.64" y="82.35">0.099</text><text class="k" x="282.56" y="82.35">0.67</text><text class="k" x="296.47" y="82.35">0.69</text><text class="k" x="310.38" y="82.35">0.68</text><text class="k" x="324.3" y="82.35">0.18</text><text class="k" x="338.21" y="82.35">0.45</text><text class="k" x="352.12" y="82.35">0.69</text><text class="k" x="366.04" y="82.35">0.3</text><text class="w" x="379.95" y="82.35">0.73</text><text class="k" x="393.86" y="82.35">0.68</text><text class="k" x="407.78" y="82.35">0.45</text><text class="w" x="421.69" y="82.35">0.75</text><text class="w" x="435.6" y="82.35">0.88</text><text class="w" x="449.52" y="82.35">0.86</text><text class="k" x="463.43" y="82.35">0.41</text><text class="k" x="477.34" y="82.35">0.51</text>
<text class="w" x="73.86" y="93.93">0.82</text><text class="k" x="87.77" y="93.93">0.29</text><text class="w" x="101.68" y="93.93">0.85</text><text class="w" x="115.6" y="93.93">0.82</text><text class="k" x="129.51" y="93.93">0.55</text><text class="w" x="143.42" y="93.93">0.83</text><text class="w" x="157.34" y="93.93">0.92</text><text class="w" x="171.25" y="93.93">1</text><text class="k" x="185.16" y="93.93">0.46</text><text class="k" x="199.08" y="93.93">0.17</text><text class="w" x="212.99" y="93.93">0.7</text><text class="k" x="226.9" y="93.93">0.021</text><text class="w" x="240.82" y="93.93">0.71</text><text class="k" x="254.73" y="93.93">0.69</text><text class="k" x="268.64" y="93.93">0.028</text><text class="k" x="282.56" y="93.93">0.49</text><text class="k" x="296.47" y="93.93">0.44</text><text class="k" x="310.38" y="93.93">0.62</text><text class="k" x="324.3" y="93.93">0.095</text><text class="k" x="338.21" y="93.93">0.26</text><text class="w" x="352.12" y="93.93">0.83</text><text class="k" x="366.04" y="93.93">0.29</text><text class="w" x="379.95" y="93.93">0.86</text><text class="w" x="393.86" y="93.93">0.81</text><text class="k" x="407.78" y="93.93">0.45</text><text class="k" x="421.69" y="93.93">0.67</text><text class="w" x="435.6" y="93.93">0.75</text><text class="w" x="449.52" y="93.93">0.91</text><text class="k" x="463.43" y="93.93">0.38</text><text class="k" x="477.34" y="93.93">0.37</text>
<text class="k" x="73.86" y="105.51">0.15</text><text class="k" x="87.77" y="105.51">0.071</text><text class="k" x="101.68" y="105.51">0.18</text><text class="k" x="115.6" y="105.51">0.15</text><text class="k" x="129.51" y="105.51">0.56</text><text class="k" x="143.42" y="105.51">0.6</text><text class="k" x="157.34" y="105.51">0.5</text><text class="k" x="171.25" y="105.51">0.46</text><text class="w" x="185.16" y="105.51">1</text><text class="k" x="199.08" y="105.51">0.48</text><text class="k" x="212.99" y="105.51">0.3</text><text class="k" x="226.9" y="105.51">0.13</text><text class="k" x="240.82" y="105.51">0.31</text><text class="k" x="254.73" y="105.51">0.22</text><text class="k" x="268.64" y="105.51">0.19</text><text class="k" x="282.56" y="105.51">0.42</text><text class="k" x="296.47" y="105.51">0.34</text><text class="k" x="310.38" y="105.51">0.39</text><text class="k" x="324.3" y="105.51">0.45</text><text class="k" x="338.21" y="105.51">0.33</text><text class="k" x="352.12" y="105.51">0.19</text><text class="k" x="366.04" y="105.51">0.091</text><text class="k" x="379.95" y="105.51">0.22</text><text class="k" x="393.86" y="105.51">0.18</text><text class="k" x="407.78" y="105.51">0.43</text><text class="k" x="421.69" y="105.51">0.47</text><text class="k" x="435.6" y="105.51">0.43</text><text class="k" x="449.52" y="105.51">0.43</text><text class="w" x="463.43" y="105.51">0.7</text><text class="k" x="477.34" y="105.51">0.44</text>
<text class="w" x="73.86" y="117.09">-0.31</text><text class="w" x="87.77" y="117.09">-0.076</text><text class="w" x="101.68" y="117.09">-0.26</text><text class="w" x="115.6" y="117.09">-0.28</text><text class="k" x="129.51" y="117.09">0.58</text><text class="k" x="143.42" y="117.09">0.57</text><text class="k" x="157.34" y="117.09">0.34</text><text class="k" x="171.25" y="117.09">0.17</text><text class="k" x="185.16" y="117.09">0.48</text><text class="w" x="199.08" y="117.09">1</text><text class="k" x="212.99" y="117.09">0.00011</text><text class="k" x="226.9" y="117.09">0.16</text><text class="k" x="240.82" y="117.09">0.04</text><text class="w" x="254.73" y="117.09">-0.09</text><text class="k" x="268.64" y="117.09">0.4</text><text class="k" x="282.56" y="117.09">0.56</text><text class="k" x="296.47" y="117.09">0.45</text><text class="k" x="310.38" y="117.09">0.34</text><text class="k" x="324.3" y="117.09">0.35</text><text class="k" x="338.21" y="117.09">0.69</text><text class="w" x="352.12" y="117.09">-0.25</text><text class="w" x="366.04" y="117.09">-0.051</text><text class="w" x="379.95" y="117.09">-0.21</text><text class="w" x="393.86" y="117.09">-0.23</text><text class="k" x="407.78" y="117.09">0.5</text><text class="k" x="421.69" y="117.09">0.46</text><text class="k" x="435.6" y="117.09">0.35</text><text class="k" x="449.52" y="117.09">0.18</text><text class="k" x="463.43" y="117.09">0.33</text><text class="w" x="477.34" y="117.09">0.77</text>
<text class="k" x="73.86" y="128.68">0.68</text><text class="k" x="87.77" y="128.68">0.28</text><text class="k" x="101.68" y="128.68">0.69</text><text class="w" x="115.6" y="128.68">0.73</text><text class="k" x="129.51" y="128.68">0.3</text><text class="k" x="143.42" y="128.68">0.5</text><text class="k" x="157.34" y="128.68">0.63</text><text class="w" x="171.25" y="128.68">0.7</text><text class="k" x="185.16" y="128.68">0.3</text><text class="k" x="199.08" y="128.68">0.00011</text><text class="w" x="212.99" y="128.68">1</text><text class="k" x="226.9" y="128.68">0.21</text><text class="w" x="240.82" y="128.68">0.97</text><text class="w" x="254.73" y="128.68">0.95</text><text class="k" x="268.64" y="128.68">0.16</text><text class="k" x="282.56" y="128.68">0.36</text><text class="k" x="296.47" y="128.68">0.33</text><text class="k" x="310.38" y="128.68">0.51</text><text class="k" x="324.3" y="128.68">0.24</text><text class="k" x="338.21" y="128.68">0.23</text><text class="w" x="352.12" y="128.68">0.72</text><text class="k" x="366.04" y="128.68">0.19</text><text class="w" x="379.95" y="128.68">0.72</text><text class="w" x="393.86" y="128.68">0.75</text><text class="k" x="407.78" y="128.68">0.14</text><text class="k" x="421.69" y="128.68">0.29</text><text class="k" x="435.6" y="128.68">0.38</text><text class="k" x="449.52" y="128.68">0.53</text><text class="k" x="463.43" y="128.68">0.095</text><text class="k" x="477.34" y="128.68">0.05</text>
<text class="w" x="73.86" y="140.26">-0.097</text><text class="k" x="87.77" y="140.26">0.39</text><text class="w" x="101.68" y="140.26">-0.087</text><text class="w" x="115.6" y="140.26">-0.066</text><text class="k" x="129.51" y="140.26">0.068</text><text class="k" x="143.42" y="140.26">0.046</text><text class="k" x="157.34" y="140.26">0.076</text><text class="k" x="171.25" y="140.26">0.021</text><text class="k" x="185.16" y="140.26">0.13</text><text class="k" x="199.08" y="140.26">0.16</text><text class="k" x="212.99" y="140.26">0.21</text><text class="w" x="226.9" y="140.26">1</text><text class="k" x="240.82" y="140.26">0.22</text><text class="k" x="254.73" y="140.26">0.11</text><text class="k" x="268.64" y="140.26">0.4</text><text class="k" x="282.56" y="140.26">0.23</text><text class="k" x="296.47" y="140.26">0.19</text><text class="k" x="310.38" y="140.26">0.23</text><text class="k" x="324.3" y="140.26">0.41</text><text class="k" x="338.21" y="140.26">0.28</text><text class="w" x="352.12" y="140.26">-0.11</text><text class="k" x="366.04" y="140.26">0.41</text><text class="w" x="379.95" y="140.26">-0.1</text><text class="w" x="393.86" y="140.26">-0.083</text><text class="w" x="407.78" y="140.26">-0.074</text><text class="w" x="421.69" y="140.26">-0.092</text><text class="w" x="435.6" y="140.26">-0.069</text><text class="w" x="449.52" y="140.26">-0.12</text><text class="w" x="463.43" y="140.26">-0.13</text><text class="w" x="477.34" y="140.26">-0.046</text>
<text class="k" x="73.86" y="151.84">0.67</text><text class="k" x="87.77" y="151.84">0.28</text><text class="w" x="101.68" y="151.84">0.69</text><text class="w" x="115.6" y="151.84">0.73</text><text class="k" x="129.51" y="151.84">0.3</text><text class="k" x="143.42" y="151.84">0.55</text><text class="k" x="157.34" y="151.84">0.66</text><text class="w" x="171.25" y="151.84">0.71</text><text class="k" x="185.16" y="151.84">0.31</text><text class="k" x="199.08" y="151.84">0.04</text><text class="w" x="212.99" y="151.84">0.97</text><text class="k" x="226.9" y="151.84">0.22</text><text class="w" x="240.82" y="151.84">1</text><text class="w" x="254.73" y="151.84">0.94</text><text class="k" x="268.64" y="151.84">0.15</text><text class="k" x="282.56" y="151.84">0.42</text><text class="k" x="296.47" y="151.84">0.36</text><text class="k" x="310.38" y="151.84">0.56</text><text class="k" x="324.3" y="151.84">0.27</text><text class="k" x="338.21" y="151.84">0.24</text><text class="w" x="352.12" y="151.84">0.7</text><text class="k" x="366.04" y="151.84">0.2</text><text class="w" x="379.95" y="151.84">0.72</text><text class="w" x="393.86" y="151.84">0.73</text><text class="k" x="407.78" y="151.84">0.13</text><text class="k" x="421.69" y="151.84">0.34</text><text class="k" x="435.6" y="151.84">0.42</text><text class="k" x="449.52" y="151.84">0.55</text><text class="k" x="463.43" y="151.84">0.11</text><text class="k" x="477.34" y="151.84">0.085</text>
<text class="w" x="73.86" y="163.42">0.74</text><text class="k" x="87.77" y="163.42">0.26</text><text class="w" x="101.68" y="163.42">0.74</text><text class="w" x="115.6" y="163.42">0.8</text><text class="k" x="129.51" y="163.42">0.25</text><text class="k" x="143.42" y="163.42">0.46</text><text class="k" x="157.34" y="163.42">0.62</text><text class="k" x="171.25" y="163.42">0.69</text><text class="k" x="185.16" y="163.42">0.22</text><text class="w" x="199.08" y="163.42">-0.09</text><text class="w" x="212.99" y="163.42">0.95</text><text class="k" x="226.9" y="163.42">0.11</text><text class="w" x="240.82" y="163.42">0.94</text><text class="w" x="254.73" y="163.42">1</text><text class="k" x="268.64" y="163.42">0.075</text><text class="k" x="282.56" y="163.42">0.28</text><text class="k" x="296.47" y="163.42">0.27</text><text class="k" x="310.38" y="163.42">0.42</text><text class="k" x="324.3" y="163.42">0.13</text><text class="k" x="338.21" y="163.42">0.13</text><text class="w" x="352.12" y="163.42">0.76</text><text class="k" x="366.04" y="163.42">0.2</text><text class="w" x="379.95" y="163.42">0.76</text><text class="w" x="393.86" y="163.42">0.81</text><text class="k" x="407.78" y="163.42">0.13</text><text class="k" x="421.69" y="163.42">0.28</text><text class="k" x="435.6" y="163.42">0.39</text><text class="k" x="449.52" y="163.42">0.54</text><text class="k" x="463.43" y="163.42">0.074</text><text class="k" x="477.34" y="163.42">0.018</text>
<text class="w" x="73.86" y="175">-0.22</text><text class="k" x="87.77" y="175">0.0066</text><text class="w" x="101.68" y="175">-0.2</text><text class="w" x="115.6" y="175">-0.17</text><text class="k" x="129.51" y="175">0.33</text><text class="k" x="143.42" y="175">0.14</text><text class="k" x="157.34" y="175">0.099</text><text class="k" x="171.25" y="175">0.028</text><text class="k" x="185.16" y="175">0.19</text><text class="k" x="199.08" y="175">0.4</text><text class="k" x="212.99" y="175">0.16</text><text class="k" x="226.9" y="175">0.4</text><text class="k" x="240.82" y="175">0.15</text><text class="k" x="254.73" y="175">0.075</text><text class="w" x="268.64" y="175">1</text><text class="k" x="282.56" y="175">0.34</text><text class="k" x="296.47" y="175">0.27</text><text class="k" x="310.38" y="175">0.33</text><text class="k" x="324.3" y="175">0.41</text><text class="k" x="338.21" y="175">0.43</text><text class="w" x="352.12" y="175">-0.23</text><text class="w" x="366.04" y="175">-0.075</text><text class="w" x="379.95" y="175">-0.22</text><text class="w" x="393.86" y="175">-0.18</text><text class="k" x="407.78" y="175">0.31</text><text class="w" x="421.69" y="175">-0.056</text><text class="w" x="435.6" y="175">-0.058</text><text class="w" x="449.52" y="175">-0.1</text><text class="w" x="463.43" y="175">-0.11</text><text class="k" x="477.34" y="175">0.1</text>
<text class="k" x="73.86" y="186.58">0.21</text><text class="k" x="87.77" y="186.58">0.19</text><text class="k" x="101.68" y="186.58">0.25</text><text class="k" x="115.6" y="186.58">0.21</text><text class="k" x="129.51" y="186.58">0.32</text><text class="w" x="143.42" y="186.58">0.74</text><text class="k" x="157.34" y="186.58">0.67</text><text class="k" x="171.25" y="186.58">0.49</text><text class="k" x="185.16" y="186.58">0.42</text><text class="k" x="199.08" y="186.58">0.56</text><text class="k" x="212.99" y="186.58">0.36</text><text class="k" x="226.9" y="186.58">0.23</text><text class="k" x="240.82" y="186.58">0.42</text><text class="k" x="254.73" y="186.58">0.28</text><text class="k" x="268.64" y="186.58">0.34</text><text class="w" x="282.56" y="186.58">1</text><text class="w" x="296.47" y="186.58">0.8</text><text class="w" x="310.38" y="186.58">0.74</text><text class="k" x="324.3" y="186.58">0.39</text><text class="w" x="338.21" y="186.58">0.8</text><text class="k" x="352.12" y="186.58">0.2</text><text class="k" x="366.04" y="186.58">0.14</text><text class="k" x="379.95" y="186.58">0.26</text><text class="k" x="393.86" y="186.58">0.2</text><text class="k" x="407.78" y="186.58">0.23</text><text class="k" x="421.69" y="186.58">0.68</text><text class="k" x="435.6" y="186.58">0.64</text><text class="k" x="449.52" y="186.58">0.48</text><text class="k" x="463.43" y="186.58">0.28</text><text class="k" x="477.34" y="186.58">0.59</text>
<text class="k" x="73.86" y="198.17">0.19</text><text class="k" x="87.77" y="198.17">0.14</text><text class="k" x="101.68" y="198.17">0.23</text><text class="k" x="115.6" y="198.17">0.21</text><text class="k" x="129.51" y="198.17">0.25</text><text class="k" x="143.42" y="198.17">0.57</text><text class="k" x="157.34" y="198.17">0.69</text><text class="k" x="171.25" y="198.17">0.44</text><text class="k" x="185.16" y="198.17">0.34</text><text class="k" x="199.08" y="198.17">0.45</text><text class="k" x="212.99" y="198.17">0.33</text><text class="k" x="226.9" y="198.17">0.19</text><text class="k" x="240.82" y="198.17">0.36</text><text class="k" x="254.73" y="198.17">0.27</text><text class="k" x="268.64" y="198.17">0.27</text><text class="w" x="282.56" y="198.17">0.8</text><text class="w" x="296.47" y="198.17">1</text><text class="w" x="310.38" y="198.17">0.77</text><text class="k" x="324.3" y="198.17">0.31</text><text class="w" x="338.21" y="198.17">0.73</text><text class="k" x="352.12" y="198.17">0.19</text><text class="k" x="366.04" y="198.17">0.1</text><text class="k" x="379.95" y="198.17">0.23</text><text class="k" x="393.86" y="198.17">0.19</text><text class="k" x="407.78" y="198.17">0.17</text><text class="k" x="421.69" y="198.17">0.48</text><text class="k" x="435.6" y="198.17">0.66</text><text class="k" x="449.52" y="198.17">0.44</text><text class="k" x="463.43" y="198.17">0.2</text><text class="k" x="477.34" y="198.17">0.44</text>
<text class="k" x="73.86" y="209.75">0.38</text><text class="k" x="87.77" y="209.75">0.16</text><text class="k" x="101.68" y="209.75">0.41</text><text class="k" x="115.6" y="209.75">0.37</text><text class="k" x="129.51" y="209.75">0.38</text><text class="k" x="143.42" y="209.75">0.64</text><text class="k" x="157.34" y="209.75">0.68</text><text class="k" x="171.25" y="209.75">0.62</text><text class="k" x="185.16" y="209.75">0.39</text><text class="k" x="199.08" y="209.75">0.34</text><text class="k" x="212.99" y="209.75">0.51</text><text class="k" x="226.9" y="209.75">0.23</text><text class="k" x="240.82" y="209.75">0.56</text><text class="k" x="254.73" y="209.75">0.42</text><text class="k" x="268.64" y="209.75">0.33</text><text class="w" x="282.56" y="209.75">0.74</text><text class="w" x="296.47" y="209.75">0.77</text><text class="w" x="310.38" y="209.75">1</text><text class="k" x="324.3" y="209.75">0.31</text><text class="k" x="338.21" y="209.75">0.61</text><text class="k" x="352.12" y="209.75">0.36</text><text class="k" x="366.04" y="209.75">0.087</text><text class="k" x="379.95" y="209.75">0.39</text><text class="k" x="393.86" y="209.75">0.34</text><text class="k" x="407.78" y="209.75">0.22</text><text class="k" x="421.69" y="209.75">0.45</text><text class="k" x="435.6" y="209.75">0.55</text><text class="k" x="449.52" y="209.75">0.6</text><text class="k" x="463.43" y="209.75">0.14</text><text class="k" x="477.34" y="209.75">0.31</text>
<text class="w" x="73.86" y="221.33">-0.1</text><text class="k" x="87.77" y="221.33">0.0091</text><text class="w" x="101.68" y="221.33">-0.082</text><text class="w" x="115.6" y="221.33">-0.072</text><text class="k" x="129.51" y="221.33">0.2</text><text class="k" x="143.42" y="221.33">0.23</text><text class="k" x="157.34" y="221.33">0.18</text><text class="k" x="171.25" y="221.33">0.095</text><text class="k" x="185.16" y="221.33">0.45</text><text class="k" x="199.08" y="221.33">0.35</text><text class="k" x="212.99" y="221.33">0.24</text><text class="k" x="226.9" y="221.33">0.41</text><text class="k" x="240.82" y="221.33">0.27</text><text class="k" x="254.73" y="221.33">0.13</text><text class="k" x="268.64" y="221.33">0.41</text><text class="k" x="282.56" y="221.33">0.39</text><text class="k" x="296.47" y="221.33">0.31</text><text class="k" x="310.38" y="221.33">0.31</text><text class="w" x="324.3" y="221.33">1</text><text class="k" x="338.21" y="221.33">0.37</text><text class="w" x="352.12" y="221.33">-0.13</text><text class="w" x="366.04" y="221.33">-0.077</text><text class="w" x="379.95" y="221.33">-0.1</text><text class="w" x="393.86" y="221.33">-0.11</text><text class="w" x="407.78" y="221.33">-0.013</text><text class="k" x="421.69" y="221.33">0.06</text><text class="k" x="435.6" y="221.33">0.037</text><text class="w" x="449.52" y="221.33">-0.03</text><text class="k" x="463.43" y="221.33">0.39</text><text class="k" x="477.34" y="221.33">0.078</text>
<text class="w" x="73.86" y="232.91">-0.043</text><text class="k" x="87.77" y="232.91">0.054</text><text class="w" x="101.68" y="232.91">-0.0055</text><text class="w" x="115.6" y="232.91">-0.02</text><text class="k" x="129.51" y="232.91">0.28</text><text class="k" x="143.42" y="232.91">0.51</text><text class="k" x="157.34" y="232.91">0.45</text><text class="k" x="171.25" y="232.91">0.26</text><text class="k" x="185.16" y="232.91">0.33</text><text class="k" x="199.08" y="232.91">0.69</text><text class="k" x="212.99" y="232.91">0.23</text><text class="k" x="226.9" y="232.91">0.28</text><text class="k" x="240.82" y="232.91">0.24</text><text class="k" x="254.73" y="232.91">0.13</text><text class="k" x="268.64" y="232.91">0.43</text><text class="w" x="282.56" y="232.91">0.8</text><text class="w" x="296.47" y="232.91">0.73</text><text class="k" x="310.38" y="232.91">0.61</text><text class="k" x="324.3" y="232.91">0.37</text><text class="w" x="338.21" y="232.91">1</text><text class="w" x="352.12" y="232.91">-0.037</text><text class="k" x="366.04" y="232.91">-0.0032</text><text class="k" x="379.95" y="232.91">-0.001</text><text class="w" x="393.86" y="232.91">-0.023</text><text class="k" x="407.78" y="232.91">0.17</text><text class="k" x="421.69" y="232.91">0.39</text><text class="k" x="435.6" y="232.91">0.38</text><text class="k" x="449.52" y="232.91">0.22</text><text class="k" x="463.43" y="232.91">0.11</text><text class="k" x="477.34" y="232.91">0.59</text>
<text class="w" x="73.86" y="244.49">0.97</text><text class="k" x="87.77" y="244.49">0.35</text><text class="w" x="101.68" y="244.49">0.97</text><text class="w" x="115.6" y="244.49">0.96</text><text class="k" x="129.51" y="244.49">0.21</text><text class="k" x="143.42" y="244.49">0.54</text><text class="k" x="157.34" y="244.49">0.69</text><text class="w" x="171.25" y="244.49">0.83</text><text class="k" x="185.16" y="244.49">0.19</text><text class="w" x="199.08" y="244.49">-0.25</text><text class="w" x="212.99" y="244.49">0.72</text><text class="w" x="226.9" y="244.49">-0.11</text><text class="w" x="240.82" y="244.49">0.7</text><text class="w" x="254.73" y="244.49">0.76</text><text class="w" x="268.64" y="244.49">-0.23</text><text class="k" x="282.56" y="244.49">0.2</text><text class="k" x="296.47" y="244.49">0.19</text><text class="k" x="310.38" y="244.49">0.36</text><text class="w" x="324.3" y="244.49">-0.13</text><text class="w" x="338.21" y="244.49">-0.037</text><text class="w" x="352.12" y="244.49">1</text><text class="k" x="366.04" y="244.49">0.36</text><text class="w" x="379.95" y="244.49">0.99</text><text class="w" x="393.86" y="244.49">0.98</text><text class="k" x="407.78" y="244.49">0.22</text><text class="k" x="421.69" y="244.49">0.48</text><text class="k" x="435.6" y="244.49">0.57</text><text class="w" x="449.52" y="244.49">0.79</text><text class="k" x="463.43" y="244.49">0.24</text><text class="k" x="477.34" y="244.49">0.093</text>
<text class="k" x="73.86" y="256.07">0.3</text><text class="w" x="87.77" y="256.07">0.91</text><text class="k" x="101.68" y="256.07">0.3</text><text class="k" x="115.6" y="256.07">0.29</text><text class="k" x="129.51" y="256.07">0.036</text><text class="k" x="143.42" y="256.07">0.25</text><text class="k" x="157.34" y="256.07">0.3</text><text class="k" x="171.25" y="256.07">0.29</text><text class="k" x="185.16" y="256.07">0.091</text><text class="w" x="199.08" y="256.07">-0.051</text><text class="k" x="212.99" y="256.07">0.19</text><text class="k" x="226.9" y="256.07">0.41</text><text class="k" x="240.82" y="256.07">0.2</text><text class="k" x="254.73" y="256.07">0.2</text><text class="w" x="268.64" y="256.07">-0.075</text><text class="k" x="282.56" y="256.07">0.14</text><text class="k" x="296.47" y="256.07">0.1</text><text class="k" x="310.38" y="256.07">0.087</text><text class="w" x="324.3" y="256.07">-0.077</text><text class="k" x="338.21" y="256.07">-0.0032</text><text class="k" x="352.12" y="256.07">0.36</text><text class="w" x="366.04" y="256.07">1</text><text class="k" x="379.95" y="256.07">0.37</text><text class="k" x="393.86" y="256.07">0.35</text><text class="k" x="407.78" y="256.07">0.23</text><text class="k" x="421.69" y="256.07">0.36</text><text class="k" x="435.6" y="256.07">0.37</text><text class="k" x="449.52" y="256.07">0.36</text><text class="k" x="463.43" y="256.07">0.23</text><text class="k" x="477.34" y="256.07">0.22</text>
<text class="w" x="73.86" y="267.65">0.97</text><text class="k" x="87.77" y="267.65">0.36</text><text class="w" x="101.68" y="267.65">0.97</text><text class="w" x="115.6" y="267.65">0.96</text><text class="k" x="129.51" y="267.65">0.24</text><text class="k" x="143.42" y="267.65">0.59</text><text class="w" x="157.34" y="267.65">0.73</text><text class="w" x="171.25" y="267.65">0.86</text><text class="k" x="185.16" y="267.65">0.22</text><text class="w" x="199.08" y="267.65">-0.21</text><text class="w" x="212.99" y="267.65">0.72</text><text class="w" x="226.9" y="267.65">-0.1</text><text class="w" x="240.82" y="267.65">0.72</text><text class="w" x="254.73" y="267.65">0.76</text><text class="w" x="268.64" y="267.65">-0.22</text><text class="k" x="282.56" y="267.65">0.26</text><text class="k" x="296.47" y="267.65">0.23</text><text class="k" x="310.38" y="267.65">0.39</text><text class="w" x="324.3" y="267.65">-0.1</text><text class="k" x="338.21" y="267.65">-0.001</text><text class="w" x="352.12" y="267.65">0.99</text><text class="k" x="366.04" y="267.65">0.37</text><text class="w" x="379.95" y="267.65">1</text><text class="w" x="393.86" y="267.65">0.98</text><text class="k" x="407.78" y="267.65">0.24</text><text class="k" x="421.69" y="267.65">0.53</text><text class="k" x="435.6" y="267.65">0.62</text><text class="w" x="449.52" y="267.65">0.82</text><text class="k" x="463.43" y="267.65">0.27</text><text class="k" x="477.34" y="267.65">0.14</text>
<text class="w" x="73.86" y="279.24">0.94</text><text class="k" x="87.77" y="279.24">0.34</text><text class="w" x="101.68" y="279.24">0.94</text><text class="w" x="115.6" y="279.24">0.96</text><text class="k" x="129.51" y="279.24">0.21</text><text class="k" x="143.42" y="279.24">0.51</text><text class="k" x="157.34" y="279.24">0.68</text><text class="w" x="171.25" y="279.24">0.81</text><text class="k" x="185.16" y="279.24">0.18</text><text class="w" x="199.08" y="279.24">-0.23</text><text class="w" x="212.99" y="279.24">0.75</text><text class="w" x="226.9" y="279.24">-0.083</text><text class="w" x="240.82" y="279.24">0.73</text><text class="w" x="254.73" y="279.24">0.81</text><text class="w" x="268.64" y="279.24">-0.18</text><text class="k" x="282.56" y="279.24">0.2</text><text class="k" x="296.47" y="279.24">0.19</text><text class="k" x="310.38" y="279.24">0.34</text><text class="w" x="324.3" y="279.24">-0.11</text><text class="w" x="338.21" y="279.24">-0.023</text><text class="w" x="352.12" y="279.24">0.98</text><text class="k" x="366.04" y="279.24">0.35</text><text class="w" x="379.95" y="279.24">0.98</text><text class="w" x="393.86" y="279.24">1</text><text class="k" x="407.78" y="279.24">0.21</text><text class="k" x="421.69" y="279.24">0.44</text><text class="k" x="435.6" y="279.24">0.54</text><text class="w" x="449.52" y="279.24">0.75</text><text class="k" x="463.43" y="279.24">0.21</text><text class="k" x="477.34" y="279.24">0.08</text>
<text class="k" x="73.86" y="290.82">0.12</text><text class="k" x="87.77" y="290.82">0.078</text><text class="k" x="101.68" y="290.82">0.15</text><text class="k" x="115.6" y="290.82">0.12</text><text class="w" x="129.51" y="290.82">0.81</text><text class="k" x="143.42" y="290.82">0.57</text><text class="k" x="157.34" y="290.82">0.45</text><text class="k" x="171.25" y="290.82">0.45</text><text class="k" x="185.16" y="290.82">0.43</text><text class="k" x="199.08" y="290.82">0.5</text><text class="k" x="212.99" y="290.82">0.14</text><text class="w" x="226.9" y="290.82">-0.074</text><text class="k" x="240.82" y="290.82">0.13</text><text class="k" x="254.73" y="290.82">0.13</text><text class="k" x="268.64" y="290.82">0.31</text><text class="k" x="282.56" y="290.82">0.23</text><text class="k" x="296.47" y="290.82">0.17</text><text class="k" x="310.38" y="290.82">0.22</text><text class="w" x="324.3" y="290.82">-0.013</text><text class="k" x="338.21" y="290.82">0.17</text><text class="k" x="352.12" y="290.82">0.22</text><text class="k" x="366.04" y="290.82">0.23</text><text class="k" x="379.95" y="290.82">0.24</text><text class="k" x="393.86" y="290.82">0.21</text><text class="w" x="407.78" y="290.82">1</text><text class="k" x="421.69" y="290.82">0.57</text><text class="k" x="435.6" y="290.82">0.52</text><text class="k" x="449.52" y="290.82">0.55</text><text class="k" x="463.43" y="290.82">0.49</text><text class="k" x="477.34" y="290.82">0.62</text>
<text class="k" x="73.86" y="302.4">0.41</text><text class="k" x="87.77" y="302.4">0.28</text><text class="k" x="101.68" y="302.4">0.46</text><text class="k" x="115.6" y="302.4">0.39</text><text class="k" x="129.51" y="302.4">0.47</text><text class="w" x="143.42" y="302.4">0.87</text><text class="w" x="157.34" y="302.4">0.75</text><text class="k" x="171.25" y="302.4">0.67</text><text class="k" x="185.16" y="302.4">0.47</text><text class="k" x="199.08" y="302.4">0.46</text><text class="k" x="212.99" y="302.4">0.29</text><text class="w" x="226.9" y="302.4">-0.092</text><text class="k" x="240.82" y="302.4">0.34</text><text class="k" x="254.73" y="302.4">0.28</text><text class="w" x="268.64" y="302.4">-0.056</text><text class="k" x="282.56" y="302.4">0.68</text><text class="k" x="296.47" y="302.4">0.48</text><text class="k" x="310.38" y="302.4">0.45</text><text class="k" x="324.3" y="302.4">0.06</text><text class="k" x="338.21" y="302.4">0.39</text><text class="k" x="352.12" y="302.4">0.48</text><text class="k" x="366.04" y="302.4">0.36</text><text class="k" x="379.95" y="302.4">0.53</text><text class="k" x="393.86" y="302.4">0.44</text><text class="k" x="407.78" y="302.4">0.57</text><text class="w" x="421.69" y="302.4">1</text><text class="w" x="435.6" y="302.4">0.89</text><text class="w" x="449.52" y="302.4">0.8</text><text class="k" x="463.43" y="302.4">0.61</text><text class="w" x="477.34" y="302.4">0.81</text>
<text class="k" x="73.86" y="313.98">0.53</text><text class="k" x="87.77" y="313.98">0.3</text><text class="k" x="101.68" y="313.98">0.56</text><text class="k" x="115.6" y="313.98">0.51</text><text class="k" x="129.51" y="313.98">0.43</text><text class="w" x="143.42" y="313.98">0.82</text><text class="w" x="157.34" y="313.98">0.88</text><text class="w" x="171.25" y="313.98">0.75</text><text class="k" x="185.16" y="313.98">0.43</text><text class="k" x="199.08" y="313.98">0.35</text><text class="k" x="212.99" y="313.98">0.38</text><text class="w" x="226.9" y="313.98">-0.069</text><text class="k" x="240.82" y="313.98">0.42</text><text class="k" x="254.73" y="313.98">0.39</text><text class="w" x="268.64" y="313.98">-0.058</text><text class="k" x="282.56" y="313.98">0.64</text><text class="k" x="296.47" y="313.98">0.66</text><text class="k" x="310.38" y="313.98">0.55</text><text class="k" x="324.3" y="313.98">0.037</text><text class="k" x="338.21" y="313.98">0.38</text><text class="k" x="352.12" y="313.98">0.57</text><text class="k" x="366.04" y="313.98">0.37</text><text class="k" x="379.95" y="313.98">0.62</text><text class="k" x="393.86" y="313.98">0.54</text><text class="k" x="407.78" y="313.98">0.52</text><text class="w" x="421.69" y="313.98">0.89</text><text class="w" x="435.6" y="313.98">1</text><text class="w" x="449.52" y="313.98">0.86</text><text class="k" x="463.43" y="313.98">0.53</text><text class="k" x="477.34" y="313.98">0.69</text>
<text class="w" x="73.86" y="325.56">0.74</text><text class="k" x="87.77" y="325.56">0.3</text><text class="w" x="101.68" y="325.56">0.77</text><text class="w" x="115.6" y="325.56">0.72</text><text class="k" x="129.51" y="325.56">0.5</text><text class="w" x="143.42" y="325.56">0.82</text><text class="w" x="157.34" y="325.56">0.86</text><text class="w" x="171.25" y="325.56">0.91</text><text class="k" x="185.16" y="325.56">0.43</text><text class="k" x="199.08" y="325.56">0.18</text><text class="k" x="212.99" y="325.56">0.53</text><text class="w" x="226.9" y="325.56">-0.12</text><text class="k" x="240.82" y="325.56">0.55</text><text class="k" x="254.73" y="325.56">0.54</text><text class="w" x="268.64" y="325.56">-0.1</text><text class="k" x="282.56" y="325.56">0.48</text><text class="k" x="296.47" y="325.56">0.44</text><text class="k" x="310.38" y="325.56">0.6</text><text class="w" x="324.3" y="325.56">-0.03</text><text class="k" x="338.21" y="325.56">0.22</text><text class="w" x="352.12" y="325.56">0.79</text><text class="k" x="366.04" y="325.56">0.36</text><text class="w" x="379.95" y="325.56">0.82</text><text class="w" x="393.86" y="325.56">0.75</text><text class="k" x="407.78" y="325.56">0.55</text><text class="w" x="421.69" y="325.56">0.8</text><text class="w" x="435.6" y="325.56">0.86</text><text class="w" x="449.52" y="325.56">1</text><text class="k" x="463.43" y="325.56">0.5</text><text class="k" x="477.34" y="325.56">0.51</text>
<text class="k" x="73.86" y="337.14">0.16</text><text class="k" x="87.77" y="337.14">0.11</text><text class="k" x="101.68" y="337.14">0.19</text><text class="k" x="115.6" y="337.14">0.14</text><text class="k" x="129.51" y="337.14">0.39</text><text class="k" x="143.42" y="337.14">0.51</text><text class="k" x="157.34" y="337.14">0.41</text><text class="k" x="171.25" y="337.14">0.38</text><text class="w" x="185.16" y="337.14">0.7</text><text class="k" x="199.08" y="337.14">0.33</text><text class="k" x="212.99" y="337.14">0.095</text><text class="w" x="226.9" y="337.14">-0.13</text><text class="k" x="240.82" y="337.14">0.11</text><text class="k" x="254.73" y="337.14">0.074</text><text class="w" x="268.64" y="337.14">-0.11</text><text class="k" x="282.56" y="337.14">0.28</text><text class="k" x="296.47" y="337.14">0.2</text><text class="k" x="310.38" y="337.14">0.14</text><text class="k" x="324.3" y="337.14">0.39</text><text class="k" x="338.21" y="337.14">0.11</text><text class="k" x="352.12" y="337.14">0.24</text><text class="k" x="366.04" y="337.14">0.23</text><text class="k" x="379.95" y="337.14">0.27</text><text class="k" x="393.86" y="337.14">0.21</text><text class="k" x="407.78" y="337.14">0.49</text><text class="k" x="421.69" y="337.14">0.61</text><text class="k" x="435.6" y="337.14">0.53</text><text class="k" x="449.52" y="337.14">0.5</text><text class="w" x="463.43" y="337.14">1</text><text class="k" x="477.34" y="337.14">0.54</text>
<text class="k" x="73.86" y="348.73">0.0071</text><text class="k" x="87.77" y="348.73">0.12</text><text class="k" x="101.68" y="348.73">0.051</text><text class="k" x="115.6" y="348.73">0.0037</text><text class="k" x="129.51" y="348.73">0.5</text><text class="k" x="143.42" y="348.73">0.69</text><text class="k" x="157.34" y="348.73">0.51</text><text class="k" x="171.25" y="348.73">0.37</text><text class="k" x="185.16" y="348.73">0.44</text><text class="w" x="199.08" y="348.73">0.77</text><text class="k" x="212.99" y="348.73">0.05</text><text class="w" x="226.9" y="348.73">-0.046</text><text class="k" x="240.82" y="348.73">0.085</text><text class="k" x="254.73" y="348.73">0.018</text><text class="k" x="268.64" y="348.73">0.1</text><text class="k" x="282.56" y="348.73">0.59</text><text class="k" x="296.47" y="348.73">0.44</text><text class="k" x="310.38" y="348.73">0.31</text><text class="k" x="324.3" y="348.73">0.078</text><text class="k" x="338.21" y="348.73">0.59</text><text class="k" x="352.12" y="348.73">0.093</text><text class="k" x="366.04" y="348.73">0.22</text><text class="k" x="379.95" y="348.73">0.14</text><text class="k" x="393.86" y="348.73">0.08</text><text class="k" x="407.78" y="348.73">0.62</text><text class="w" x="421.69" y="348.73">0.81</text><text class="k" x="435.6" y="348.73">0.69</text><text class="k" x="449.52" y="348.73">0.51</text><text class="k" x="463.43" y="348.73">0.54</text><text class="w" x="477.34" y="348.73">1</text>
</g>
<g>
<line class="t" x1="65.26" x2="66.9" y1="14.25" y2="14.25"/><text class="y" transform="scale(1.015 1.27)" x="62.1" y="13.07">radius_mean</text>
<line class="t" x1="65.26" x2="66.9" y1="28.95" y2="28.95"/><text class="y" transform="scale(1.015 1.27)" x="62.1" y="24.64">texture_mean</text>
<line class="t" x1="65.26" x2="66.9" y1="43.64" y2="43.64"/><text class="y" transform="scale(1.015 1.27)" x="62.1" y="36.21">perimeter_mean</text>
<line class="t" x1="65.26" x2="66.9" y1="58.34" y2="58.34"/><text class="y" transform="scale(1.015 1.27)" x="62.1" y="47.79">area_mean</text>
<line class="t" x1="65.26" x2="66.9" y1="73.04" y2="73.04"/><text class="y" transform="scale(1.015 1.27)" x="62.1" y="59.36">smoothness_mean</text>
<line class="t" x1="65.26" x2="66.9" y1="87.73" y2="87.73"/><text class="y" transform="scale(1.015 1.27)" x="62.1" y="70.93">compactness_mean</text>
<line class="t" x1="65.26" x2="66.9" y1="102.43" y2="102.43"/><text class="y" transform="scale(1.015 1.27)" x="62.1" y="82.5">concavity_mean</text>
<line class="t" x1="65.26" x2="66.9" y1="117.13" y2="117.13"/><text class="y" transform="scale(1.015 1.27)" x="62.1" y="94.08">concave points_mean</text>
<line class="t" x1="65.26" x2="66.9" y1="131.82" y2="131.82"/><text class="y" transform="scale(1.015 1.27)" x="62.1" y="105.65">symmetry_mean</text>
<line class="t" x1="65.26" x2="66.9" y1="146.52" y2="146.52"/><text class="y" transform="scale(1.015 1.27)" x="62.1" y="117.22">fractal_dimension_mean</text>
<line class="t" x1="65.26" x2="66.9" y1="161.22" y2="161.22"/><text class="y" transform="scale(1.015 1.27)" x="62.1" y="128.79">radius_se</text>
<line class="t" x1="65.26" x2="66.9" y1="175.91" y2="175.91"/><text class="y" transform="scale(1.015 1.27)" x="62.1" y="140.36">texture_se</text>
<line class="t" x1="65.26" x2="66.9" y1="190.61" y2="190.61"/><text class="y" transform="scale(1.015 1.27)" x="62.1" y="151.94">perimeter_se</text>
<line class="t" x1="65.26" x2="66.9" y1="205.31" y2="205.31"/><text class="y" transform="scale(1.015 1.27)" x="62.1" y="163.51">area_se</text>
<line class="t" x1="65.26" x2="66.9" y1="220" y2="220"/><text class="y" transform="scale(1.015 1.27)" x="62.1" y="175.08">smoothness_se</text>
<line class="t" x1="65.26" x2="66.9" y1="234.7" y2="234.7"/><text class="y" transform="scale(1.015 1.27)" x="62.1" y="186.65">compactness_se</text>
<line class="t" x1="65.26" x2="66.9" y1="249.4" y2="249.4"/><text class="y" transform="scale(1.015 1.27)" x="62.1" y="198.23">concavity_se</text>
<line class="t" x1="65.26" x2="66.9" y1="264.09" y2="264.09"/><text class="y" transform="scale(1.015 1.27)" x="62.1" y="209.8">concave points_se</text>
<line class="t" x1="65.26" x2="66.9" y1="278.79" y2="278.79"/><text class="y" transform="scale(1.015 1.27)" x="62.1" y="221.37">symmetry_se</text>
<line class="t" x1="65.26" x2="66.9" y1="293.49" y2="293.49"/><text class="y" transform="scale(1.015 1.27)" x="62.1" y="232.94">fractal_dimension_se</text>
<line class="t" x1="65.26" x2="66.9" y1="308.18" y2="308.18"/><text class="y" transform="scale(1.015 1.27)" x="62.1" y="244.51">radius_worst</text>
<line class="t" x1="65.26" x2="66.9" y1="322.88" y2="322.88"/><text class="y" transform="scale(1.015 1.27)" x="62.1" y="256.09">texture_worst</text>
<line class="t" x1="65.26" x2="66.9" y1="337.57" y2="337.57"/><text class="y" transform="scale(1.015 1.27)" x="62.1" y="267.66">perimeter_worst</text>
<line class="t" x1="65.26" x2="66.9" y1="352.27" y2="352.27"/><text class="y" transform="scale(1.015 1.27)" x="62.1" y="279.23">area_worst</text>
<line class="t" x1="65.26" x2="66.9" y1="366.97" y2="366.97"/><text class="y" transform="scale(1.015 1.27)" x="62.1" y="290.8">smoothness_worst</text>
<line class="t" x1="65.26" x2="66.9" y1="381.66" y2="381.66"/><text class="y" transform="scale(1.015 1.27)" x="62.1" y="302.37">compactness_worst</text>
<line class="t" x1="65.26" x2="66.9" y1="396.36" y2="396.36"/><text class="y" transform="scale(1.015 1.27)" x="62.1" y="313.95">concavity_worst</text>
<line class="t" x1="65.26" x2="66.9" y1="411.06" y2="411.06"/><text class="y" transform="scale(1.015 1.27)" x="62.1" y="325.52">concave points_worst</text>
<line class="t" x1="65.26" x2="66.9" y1="425.75" y2="425.75"/><text class="y" transform="scale(1.015 1.27)" x="62.1" y="337.09">symmetry_worst</text>
<line class="t" x1="65.26" x2="66.9" y1="440.45" y2="440.45"/><text class="y" transform="scale(1.015 1.27)" x="62.1" y="348.66">fractal_dimension_worst</text>
</g>
<g>
<line class="t" x1="73.86" x2="73.86" y1="447.8" y2="450.4"/><text class="x" transform="translate(75.08 452.22) rotate(-90) scale(1.105 1)">radius_mean</text>
<line class="t" x1="87.77" x2="87.77" y1="447.8" y2="450.4"/><text class="x" transform="translate(88.99 452.22) rotate(-90) scale(1.105 1)">texture_mean</text>
<line class="t" x1="101.68" x2="101.68" y1="447.8" y2="450.4"/><text class="x" transform="translate(102.91 452.22) rotate(-90) scale(1.105 1)">perimeter_mean</text>
<line class="t" x1="115.6" x2="115.6" y1="447.8" y2="450.4"/><text class="x" transform="translate(116.82 452.22) rotate(-90) scale(1.105 1)">area_mean</text>
<line class="t" x1="129.51" x2="129.51" y1="447.8" y2="450.4"/><text class="x" transform="translate(130.73 452.22) rotate(-90) scale(1.105 1)">smoothness_mean</text>
<line class="t" x1="143.42" x2="143.42" y1="447.8" y2="450.4"/><text class="x" transform="translate(144.65 452.22) rotate(-90) scale(1.105 1)">compactness_mean</text>
<line class="t" x1="157.34" x2="157.34" y1="447.8" y2="450.4"/><text class="x" transform="translate(158.56 452.22) rotate(-90) scale(1.105 1)">concavity_mean</text>
<line class="t" x1="171.25" x2="171.25" y1="447.8" y2="450.4"/><text class="x" transform="translate(172.47 452.22) rotate(-90) scale(1.105 1)">concave points_mean</text>
<line class="t" x1="185.16" x2="185.16" y1="447.8" y2="450.4"/><text class="x" transform="translate(186.39 452.22) rotate(-90) scale(1.105 1)">symmetry_mean</text>
<line class="t" x1="199.08" x2="199.08" y1="447.8" y2="450.4"/><text class="x" transform="translate(200.3 452.22) rotate(-90) scale(1.105 1)">fractal_dimension_mean</text>
<line class="t" x1="212.99" x2="212.99" y1="447.8" y2="450.4"/><text class="x" transform="translate(214.21 452.22) rotate(-90) scale(1.105 1)">radius_se</text>
<line class="t" x1="226.9" x2="226.9" y1="447.8" y2="450.4"/><text class="x" transform="translate(228.13 452.22) rotate(-90) scale(1.105 1)">texture_se</text>
<line class="t" x1="240.82" x2="240.82" y1="447.8" y2="450.4"/><text class="x" transform="translate(242.04 452.22) rotate(-90) scale(1.105 1)">perimeter_se</text>
<line class="t" x1="254.73" x2="254.73" y1="447.8" y2="450.4"/><text class="x" transform="translate(255.95 452.22) rotate(-90) scale(1.105 1)">area_se</text>
<line class="t" x1="268.64" x2="268.64" y1="447.8" y2="450.4"/><text class="x" transform="translate(269.87 452.22) rotate(-90) scale(1.105 1)">smoothness_se</text>
<line class="t" x1="282.56" x2="282.56" y1="447.8" y2="450.4"/><text class="x" transform="translate(283.78 452.22) rotate(-90) scale(1.105 1)">compactness_se</text>
<line class="t" x1="296.47" x2="296.47" y1="447.8" y2="450.4"/><text class="x" transform="translate(297.69 452.22) rotate(-90) scale(1.105 1)">concavity_se</text>
<line class="t" x1="310.38" x2="310.38" y1="447.8" y2="450.4"/><text class="x" transform="translate(311.61 452.22) rotate(-90) scale(1.105 1)">concave points_se</text>
<line class="t" x1="324.3" x2="324.3" y1="447.8" y2="450.4"/><text class="x" transform="translate(325.52 452.22) rotate(-90) scale(1.105 1)">symmetry_se</text>
<line class="t" x1="338.21" x2="338.21" y1="447.8" y2="450.4"/><text class="x" transform="translate(339.43 452.22) rotate(-90) scale(1.105 1)">fractal_dimension_se</text>
<line class="t" x1="352.12" x2="352.12" y1="447.8" y2="450.4"/><text class="x" transform="translate(353.35 452.22) rotate(-90) scale(1.105 1)">radius_worst</text>
<line class="t" x1="366.04" x2="366.04" y1="447.8" y2="450.4"/><text class="x" transform="translate(367.26 452.22) rotate(-90) scale(1.105 1)">texture_worst</text>
<line class="t" x1="379.95" x2="379.95" y1="447.8" y2="450.4"/><text class="x" transform="translate(381.17 452.22) rotate(-90) scale(1.105 1)">perimeter_worst</text>
<line class="t" x1="393.86" x2="393.86" y1="447.8" y2="450.4"/><text class="x" transform="translate(395.09 452.22) rotate(-90) scale(1.105 1)">area_worst</text>
<line class="t" x1="407.78" x2="407.78" y1="447.8" y2="450.4"/><text class="x" transform="translate(409 452.22) rotate(-90) scale(1.105 1)">smoothness_worst</text>
<line class="t" x1="421.69" x2="421.69" y1="447.8" y2="450.4"/><text class="x" transform="translate(422.91 452.22) rotate(-90) scale(1.105 1)">compactness_worst</text>
<line class="t" x1="435.6" x2="435.6" y1="447.8" y2="450.4"/><text class="x" transform="translate(436.83 452.22) rotate(-90) scale(1.105 1)">concavity_worst</text>
<line class="t" x1="449.52" x2="449.52" y1="447.8" y2="450.4"/><text class="x" transform="translate(450.74 452.22) rotate(-90) scale(1.105 1)">concave points_worst</text>
<line class="t" x1="463.43" x2="463.43" y1="447.8" y2="450.4"/><text class="x" transform="translate(464.65 452.22) rotate(-90) scale(1.105 1)">symmetry_worst</text>
<line class="t" x1="477.34" x2="477.34" y1="447.8" y2="450.4"/><text class="x" transform="translate(478.57 452.22) rotate(-90) scale(1.105 1)">fractal_dimension_worst</text>
</g>
<g>
<line class="t" x1="532" x2="533.64" y1="410.28" y2="410.28"/><text class="c" transform="scale(1 1.27)" x="535.27" y="325.1">−0.2</text>
<line class="t" x1="532" x2="533.64" y1="343.05" y2="343.05"/><text class="c" transform="scale(1 1.27)" x="535.27" y="272.16">0.0</text>
<line class="t" x1="532" x2="533.64" y1="275.82" y2="275.82"/><text class="c" transform="scale(1 1.27)" x="535.27" y="219.23">0.2</text>
<line class="t" x1="532" x2="533.64" y1="208.59" y2="208.59"/><text class="c" transform="scale(1 1.27)" x="535.27" y="166.29">0.4</text>
<line class="t" x1="532" x2="533.64" y1="141.36" y2="141.36"/><text class="c" transform="scale(1 1.27)" x="535.27" y="113.35">0.6</text>
<line class="t" x1="532" x2="533.64" y1="74.13" y2="74.13"/><text class="c" transform="scale(1 1.27)" x="535.27" y="60.42">0.8</text>
<line class="t" x1="532" x2="533.64" y1="6.9" y2="6.9"/><text class="c" transform="scale(1 1.27)" x="535.27" y="7.48">1.0</text>
</g>
</g>
</svg>
</body></html>
